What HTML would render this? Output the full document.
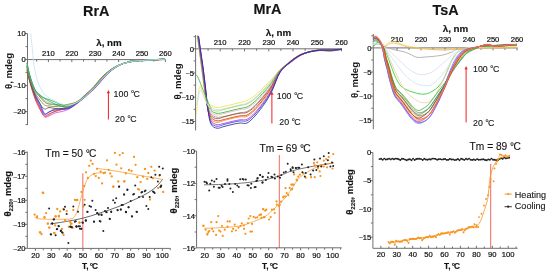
<!DOCTYPE html>
<html><head><meta charset="utf-8"><style>
html,body{margin:0;padding:0;background:#fff;}
svg{display:block;font-family:"Liberation Sans",sans-serif;will-change:transform;filter:blur(0.3px);}
</style></head><body>
<svg width="550" height="273" viewBox="0 0 550 273">
<rect width="550" height="273" fill="#fff"/>
<text x="96.2" y="15.6" font-size="14.4" text-anchor="middle" font-weight="bold" fill="#151515" stroke="#151515" stroke-width="0.15" >RrA</text>
<text x="267.5" y="13.6" font-size="14.4" text-anchor="middle" font-weight="bold" fill="#151515" stroke="#151515" stroke-width="0.15" >MrA</text>
<text x="445.6" y="14.5" font-size="14.4" text-anchor="middle" font-weight="bold" fill="#151515" stroke="#151515" stroke-width="0.15" >TsA</text>
<line x1="27.5" y1="33.5" x2="27.5" y2="125.0" stroke="#707070" stroke-width="1"/>
<line x1="25.1" y1="33.6" x2="27.5" y2="33.6" stroke="#707070" stroke-width="1"/>
<text x="25.8" y="36.3" font-size="7.6" text-anchor="end" font-weight="normal" fill="#151515" stroke="#151515" stroke-width="0.22" >10</text>
<line x1="25.1" y1="59.6" x2="27.5" y2="59.6" stroke="#707070" stroke-width="1"/>
<text x="25.8" y="62.3" font-size="7.6" text-anchor="end" font-weight="normal" fill="#151515" stroke="#151515" stroke-width="0.22" >0</text>
<line x1="25.1" y1="85.6" x2="27.5" y2="85.6" stroke="#707070" stroke-width="1"/>
<text x="25.8" y="88.3" font-size="7.6" text-anchor="end" font-weight="normal" fill="#151515" stroke="#151515" stroke-width="0.22" ><tspan font-size="6.4" dy="-0.5">&#8211;</tspan><tspan dy="0.5">10</tspan></text>
<line x1="25.1" y1="111.6" x2="27.5" y2="111.6" stroke="#707070" stroke-width="1"/>
<text x="25.8" y="114.3" font-size="7.6" text-anchor="end" font-weight="normal" fill="#151515" stroke="#151515" stroke-width="0.22" ><tspan font-size="6.4" dy="-0.5">&#8211;</tspan><tspan dy="0.5">20</tspan></text>
<line x1="25.5" y1="46.6" x2="27.5" y2="46.6" stroke="#707070" stroke-width="1"/>
<line x1="25.5" y1="72.6" x2="27.5" y2="72.6" stroke="#707070" stroke-width="1"/>
<line x1="25.5" y1="98.6" x2="27.5" y2="98.6" stroke="#707070" stroke-width="1"/>
<line x1="25.5" y1="124.6" x2="27.5" y2="124.6" stroke="#707070" stroke-width="1"/>
<line x1="27.5" y1="59.6" x2="165.5" y2="59.6" stroke="#707070" stroke-width="1"/>
<line x1="36.7" y1="59.6" x2="36.7" y2="61.6" stroke="#707070" stroke-width="1"/>
<line x1="48.4" y1="59.6" x2="48.4" y2="62.1" stroke="#707070" stroke-width="1"/>
<text x="48.4" y="56.2" font-size="7.6" text-anchor="middle" font-weight="normal" fill="#151515" stroke="#151515" stroke-width="0.22" >210</text>
<line x1="60.1" y1="59.6" x2="60.1" y2="61.6" stroke="#707070" stroke-width="1"/>
<line x1="71.8" y1="59.6" x2="71.8" y2="62.1" stroke="#707070" stroke-width="1"/>
<text x="71.8" y="56.2" font-size="7.6" text-anchor="middle" font-weight="normal" fill="#151515" stroke="#151515" stroke-width="0.22" >220</text>
<line x1="83.5" y1="59.6" x2="83.5" y2="61.6" stroke="#707070" stroke-width="1"/>
<line x1="95.2" y1="59.6" x2="95.2" y2="62.1" stroke="#707070" stroke-width="1"/>
<text x="95.2" y="56.2" font-size="7.6" text-anchor="middle" font-weight="normal" fill="#151515" stroke="#151515" stroke-width="0.22" >230</text>
<line x1="106.9" y1="59.6" x2="106.9" y2="61.6" stroke="#707070" stroke-width="1"/>
<line x1="118.6" y1="59.6" x2="118.6" y2="62.1" stroke="#707070" stroke-width="1"/>
<text x="118.6" y="56.2" font-size="7.6" text-anchor="middle" font-weight="normal" fill="#151515" stroke="#151515" stroke-width="0.22" >240</text>
<line x1="130.3" y1="59.6" x2="130.3" y2="61.6" stroke="#707070" stroke-width="1"/>
<line x1="142.0" y1="59.6" x2="142.0" y2="62.1" stroke="#707070" stroke-width="1"/>
<text x="142.0" y="56.2" font-size="7.6" text-anchor="middle" font-weight="normal" fill="#151515" stroke="#151515" stroke-width="0.22" >250</text>
<line x1="153.7" y1="59.6" x2="153.7" y2="61.6" stroke="#707070" stroke-width="1"/>
<line x1="165.4" y1="59.6" x2="165.4" y2="62.1" stroke="#707070" stroke-width="1"/>
<text x="165.4" y="56.2" font-size="7.6" text-anchor="middle" font-weight="normal" fill="#151515" stroke="#151515" stroke-width="0.22" >260</text>
<text x="109.0" y="45.5" font-size="9.8" text-anchor="middle" font-weight="bold" fill="#151515" stroke="#151515" stroke-width="0.15" >&#955;, nm</text>
<line x1="195.6" y1="35.0" x2="195.6" y2="130.4" stroke="#707070" stroke-width="1"/>
<line x1="193.2" y1="48.8" x2="195.6" y2="48.8" stroke="#707070" stroke-width="1"/>
<text x="193.9" y="51.5" font-size="7.6" text-anchor="end" font-weight="normal" fill="#151515" stroke="#151515" stroke-width="0.22" >0</text>
<line x1="193.2" y1="73.0" x2="195.6" y2="73.0" stroke="#707070" stroke-width="1"/>
<text x="193.9" y="75.7" font-size="7.6" text-anchor="end" font-weight="normal" fill="#151515" stroke="#151515" stroke-width="0.22" ><tspan font-size="6.4" dy="-0.5">&#8211;</tspan><tspan dy="0.5">5</tspan></text>
<line x1="193.2" y1="97.2" x2="195.6" y2="97.2" stroke="#707070" stroke-width="1"/>
<text x="193.9" y="99.9" font-size="7.6" text-anchor="end" font-weight="normal" fill="#151515" stroke="#151515" stroke-width="0.22" ><tspan font-size="6.4" dy="-0.5">&#8211;</tspan><tspan dy="0.5">10</tspan></text>
<line x1="193.2" y1="121.4" x2="195.6" y2="121.4" stroke="#707070" stroke-width="1"/>
<text x="193.9" y="124.1" font-size="7.6" text-anchor="end" font-weight="normal" fill="#151515" stroke="#151515" stroke-width="0.22" ><tspan font-size="6.4" dy="-0.5">&#8211;</tspan><tspan dy="0.5">15</tspan></text>
<line x1="193.6" y1="36.7" x2="195.6" y2="36.7" stroke="#707070" stroke-width="1"/>
<line x1="193.6" y1="60.9" x2="195.6" y2="60.9" stroke="#707070" stroke-width="1"/>
<line x1="193.6" y1="85.1" x2="195.6" y2="85.1" stroke="#707070" stroke-width="1"/>
<line x1="193.6" y1="109.3" x2="195.6" y2="109.3" stroke="#707070" stroke-width="1"/>
<line x1="195.6" y1="48.8" x2="342.0" y2="48.8" stroke="#707070" stroke-width="1"/>
<line x1="208.1" y1="48.8" x2="208.1" y2="50.8" stroke="#707070" stroke-width="1"/>
<line x1="220.2" y1="48.8" x2="220.2" y2="51.3" stroke="#707070" stroke-width="1"/>
<text x="220.2" y="45.0" font-size="7.6" text-anchor="middle" font-weight="normal" fill="#151515" stroke="#151515" stroke-width="0.22" >210</text>
<line x1="232.4" y1="48.8" x2="232.4" y2="50.8" stroke="#707070" stroke-width="1"/>
<line x1="244.5" y1="48.8" x2="244.5" y2="51.3" stroke="#707070" stroke-width="1"/>
<text x="244.5" y="45.0" font-size="7.6" text-anchor="middle" font-weight="normal" fill="#151515" stroke="#151515" stroke-width="0.22" >220</text>
<line x1="256.6" y1="48.8" x2="256.6" y2="50.8" stroke="#707070" stroke-width="1"/>
<line x1="268.8" y1="48.8" x2="268.8" y2="51.3" stroke="#707070" stroke-width="1"/>
<text x="268.8" y="45.0" font-size="7.6" text-anchor="middle" font-weight="normal" fill="#151515" stroke="#151515" stroke-width="0.22" >230</text>
<line x1="280.9" y1="48.8" x2="280.9" y2="50.8" stroke="#707070" stroke-width="1"/>
<line x1="293.0" y1="48.8" x2="293.0" y2="51.3" stroke="#707070" stroke-width="1"/>
<text x="293.0" y="45.0" font-size="7.6" text-anchor="middle" font-weight="normal" fill="#151515" stroke="#151515" stroke-width="0.22" >240</text>
<line x1="305.1" y1="48.8" x2="305.1" y2="50.8" stroke="#707070" stroke-width="1"/>
<line x1="317.2" y1="48.8" x2="317.2" y2="51.3" stroke="#707070" stroke-width="1"/>
<text x="317.2" y="45.0" font-size="7.6" text-anchor="middle" font-weight="normal" fill="#151515" stroke="#151515" stroke-width="0.22" >250</text>
<line x1="329.4" y1="48.8" x2="329.4" y2="50.8" stroke="#707070" stroke-width="1"/>
<line x1="341.5" y1="48.8" x2="341.5" y2="51.3" stroke="#707070" stroke-width="1"/>
<text x="341.5" y="45.0" font-size="7.6" text-anchor="middle" font-weight="normal" fill="#151515" stroke="#151515" stroke-width="0.22" >260</text>
<text x="278.5" y="36.0" font-size="9.8" text-anchor="middle" font-weight="bold" fill="#151515" stroke="#151515" stroke-width="0.15" >&#955;, nm</text>
<line x1="373.3" y1="34.0" x2="373.3" y2="129.2" stroke="#707070" stroke-width="1"/>
<line x1="370.9" y1="47.9" x2="373.3" y2="47.9" stroke="#707070" stroke-width="1"/>
<text x="371.6" y="50.6" font-size="7.6" text-anchor="end" font-weight="normal" fill="#151515" stroke="#151515" stroke-width="0.22" >0</text>
<line x1="370.9" y1="72.0" x2="373.3" y2="72.0" stroke="#707070" stroke-width="1"/>
<text x="371.6" y="74.7" font-size="7.6" text-anchor="end" font-weight="normal" fill="#151515" stroke="#151515" stroke-width="0.22" ><tspan font-size="6.4" dy="-0.5">&#8211;</tspan><tspan dy="0.5">5</tspan></text>
<line x1="370.9" y1="96.1" x2="373.3" y2="96.1" stroke="#707070" stroke-width="1"/>
<text x="371.6" y="98.8" font-size="7.6" text-anchor="end" font-weight="normal" fill="#151515" stroke="#151515" stroke-width="0.22" ><tspan font-size="6.4" dy="-0.5">&#8211;</tspan><tspan dy="0.5">10</tspan></text>
<line x1="370.9" y1="120.2" x2="373.3" y2="120.2" stroke="#707070" stroke-width="1"/>
<text x="371.6" y="122.9" font-size="7.6" text-anchor="end" font-weight="normal" fill="#151515" stroke="#151515" stroke-width="0.22" ><tspan font-size="6.4" dy="-0.5">&#8211;</tspan><tspan dy="0.5">15</tspan></text>
<line x1="371.3" y1="35.8" x2="373.3" y2="35.8" stroke="#707070" stroke-width="1"/>
<line x1="371.3" y1="60.0" x2="373.3" y2="60.0" stroke="#707070" stroke-width="1"/>
<line x1="371.3" y1="84.1" x2="373.3" y2="84.1" stroke="#707070" stroke-width="1"/>
<line x1="371.3" y1="108.2" x2="373.3" y2="108.2" stroke="#707070" stroke-width="1"/>
<line x1="373.3" y1="47.9" x2="517.5" y2="47.9" stroke="#707070" stroke-width="1"/>
<line x1="385.0" y1="47.9" x2="385.0" y2="49.9" stroke="#707070" stroke-width="1"/>
<line x1="397.0" y1="47.9" x2="397.0" y2="50.4" stroke="#707070" stroke-width="1"/>
<text x="397.0" y="41.7" font-size="7.6" text-anchor="middle" font-weight="normal" fill="#151515" stroke="#151515" stroke-width="0.22" >210</text>
<line x1="409.0" y1="47.9" x2="409.0" y2="49.9" stroke="#707070" stroke-width="1"/>
<line x1="421.0" y1="47.9" x2="421.0" y2="50.4" stroke="#707070" stroke-width="1"/>
<text x="421.0" y="41.7" font-size="7.6" text-anchor="middle" font-weight="normal" fill="#151515" stroke="#151515" stroke-width="0.22" >220</text>
<line x1="433.0" y1="47.9" x2="433.0" y2="49.9" stroke="#707070" stroke-width="1"/>
<line x1="445.0" y1="47.9" x2="445.0" y2="50.4" stroke="#707070" stroke-width="1"/>
<text x="445.0" y="41.7" font-size="7.6" text-anchor="middle" font-weight="normal" fill="#151515" stroke="#151515" stroke-width="0.22" >230</text>
<line x1="457.0" y1="47.9" x2="457.0" y2="49.9" stroke="#707070" stroke-width="1"/>
<line x1="469.0" y1="47.9" x2="469.0" y2="50.4" stroke="#707070" stroke-width="1"/>
<text x="469.0" y="41.7" font-size="7.6" text-anchor="middle" font-weight="normal" fill="#151515" stroke="#151515" stroke-width="0.22" >240</text>
<line x1="481.0" y1="47.9" x2="481.0" y2="49.9" stroke="#707070" stroke-width="1"/>
<line x1="493.0" y1="47.9" x2="493.0" y2="50.4" stroke="#707070" stroke-width="1"/>
<text x="493.0" y="41.7" font-size="7.6" text-anchor="middle" font-weight="normal" fill="#151515" stroke="#151515" stroke-width="0.22" >250</text>
<line x1="505.0" y1="47.9" x2="505.0" y2="49.9" stroke="#707070" stroke-width="1"/>
<line x1="517.0" y1="47.9" x2="517.0" y2="50.4" stroke="#707070" stroke-width="1"/>
<text x="517.0" y="41.7" font-size="7.6" text-anchor="middle" font-weight="normal" fill="#151515" stroke="#151515" stroke-width="0.22" >260</text>
<text x="455.5" y="32.0" font-size="9.8" text-anchor="middle" font-weight="bold" fill="#151515" stroke="#151515" stroke-width="0.15" >&#955;, nm</text>
<text transform="translate(12.2 71.0) rotate(-90)" font-size="9.6" font-weight="bold" text-anchor="middle" fill="#151515">&#952;, mdeg</text>
<text transform="translate(181.4 81.4) rotate(-90)" font-size="9.6" font-weight="bold" text-anchor="middle" fill="#151515">&#952;, mdeg</text>
<text transform="translate(358.2 80.0) rotate(-90)" font-size="9.6" font-weight="bold" text-anchor="middle" fill="#151515">&#952;, mdeg</text>
<path d="M27.0 71.0 C27.5 73.0 28.7 78.3 30.0 83.0 C31.3 87.7 33.3 94.6 35.0 99.0 C36.7 103.4 38.4 106.5 40.0 109.5 C41.6 112.5 43.0 115.9 44.5 116.8 C46.0 117.7 47.2 116.0 49.0 115.0 C50.8 114.0 52.8 112.1 55.0 111.0 C57.2 109.9 59.5 109.2 62.0 108.5 C64.5 107.8 66.8 107.9 70.0 106.5 C73.2 105.1 77.8 102.4 80.9 100.2 C84.1 98.0 86.4 95.5 88.9 93.2 C91.4 91.0 93.9 88.8 95.9 86.7 C97.9 84.6 99.2 82.6 100.9 80.7 C102.6 78.8 104.2 76.9 105.9 75.2 C107.6 73.5 109.2 72.0 110.9 70.7 C112.6 69.4 114.2 68.1 115.9 67.1 C117.6 66.1 119.2 65.2 120.9 64.5 C122.6 63.8 123.6 63.3 125.9 62.7 C128.2 62.1 131.8 61.2 135.0 60.9 C138.2 60.5 141.7 60.5 145.0 60.3 C148.3 60.1 151.7 60.0 155.0 59.8 C158.3 59.7 163.3 59.3 165.0 59.1" fill="none" stroke="#ff8c1a" stroke-width="0.85" stroke-opacity="1" stroke-linejoin="round"/>
<path d="M27.0 69.0 C27.5 71.2 28.7 77.2 30.0 82.0 C31.3 86.8 33.3 93.5 35.0 98.0 C36.7 102.5 38.4 106.0 40.0 109.0 C41.6 112.0 43.0 115.2 44.5 116.0 C46.0 116.8 47.2 114.8 49.0 114.0 C50.8 113.2 52.8 112.2 55.0 111.5 C57.2 110.8 59.5 110.2 62.0 109.5 C64.5 108.8 66.8 109.1 70.0 107.5 C73.2 105.9 78.1 102.5 81.3 100.0 C84.6 97.6 86.8 95.3 89.3 93.0 C91.8 90.8 94.3 88.6 96.3 86.5 C98.3 84.5 99.7 82.5 101.3 80.5 C103.0 78.6 104.7 76.7 106.3 75.0 C108.0 73.4 109.7 71.9 111.3 70.5 C113.0 69.2 114.7 68.0 116.3 67.0 C118.0 65.9 119.7 65.1 121.3 64.3 C123.0 63.6 124.1 63.1 126.3 62.5 C128.6 62.0 131.9 61.1 135.0 60.8 C138.1 60.4 141.7 60.6 145.0 60.5 C148.3 60.3 151.7 60.2 155.0 59.9 C158.3 59.6 163.3 59.1 165.0 59.0" fill="none" stroke="#e0301e" stroke-width="0.85" stroke-opacity="1" stroke-linejoin="round"/>
<path d="M27.0 66.0 C27.5 68.2 28.7 73.8 30.0 79.0 C31.3 84.2 33.3 92.2 35.0 97.0 C36.7 101.8 38.4 104.2 40.0 107.5 C41.6 110.8 43.0 115.1 44.5 116.5 C46.0 117.9 47.2 116.6 49.0 116.0 C50.8 115.4 52.8 113.8 55.0 113.0 C57.2 112.2 59.5 112.2 62.0 111.5 C64.5 110.8 66.7 110.4 70.0 108.5 C73.3 106.6 78.5 102.5 81.8 99.9 C85.1 97.3 87.3 95.2 89.8 92.9 C92.3 90.7 94.8 88.5 96.8 86.4 C98.8 84.3 100.1 82.3 101.8 80.4 C103.5 78.5 105.1 76.6 106.8 74.9 C108.5 73.2 110.1 71.8 111.8 70.4 C113.5 69.1 115.1 67.8 116.8 66.8 C118.5 65.8 120.1 64.9 121.8 64.2 C123.5 63.5 124.6 63.0 126.8 62.4 C129.0 61.8 132.0 61.1 135.0 60.8 C138.0 60.5 141.7 60.9 145.0 60.7 C148.3 60.6 151.7 60.1 155.0 59.8 C158.3 59.5 163.3 58.9 165.0 58.7" fill="none" stroke="#d050e8" stroke-width="0.85" stroke-opacity="1" stroke-linejoin="round"/>
<path d="M27.0 67.0 C27.5 69.2 28.7 75.2 30.0 80.0 C31.3 84.8 33.3 91.7 35.0 96.0 C36.7 100.3 38.4 102.9 40.0 106.0 C41.6 109.1 43.0 113.5 44.5 114.5 C46.0 115.5 47.2 112.8 49.0 112.0 C50.8 111.2 52.8 110.4 55.0 110.0 C57.2 109.6 59.5 109.8 62.0 109.5 C64.5 109.2 66.8 109.5 70.0 108.0 C73.2 106.5 77.8 102.7 80.9 100.2 C84.1 97.7 86.4 95.5 88.9 93.2 C91.4 91.0 93.9 88.8 95.9 86.7 C97.9 84.6 99.2 82.6 100.9 80.7 C102.6 78.8 104.2 76.9 105.9 75.2 C107.6 73.5 109.2 72.0 110.9 70.7 C112.6 69.4 114.2 68.1 115.9 67.1 C117.6 66.1 119.2 65.2 120.9 64.5 C122.6 63.8 123.6 63.3 125.9 62.7 C128.2 62.1 131.8 61.2 135.0 60.9 C138.2 60.5 141.7 60.5 145.0 60.3 C148.3 60.1 151.7 60.0 155.0 59.8 C158.3 59.7 163.3 59.3 165.0 59.1" fill="none" stroke="#7a3fb0" stroke-width="0.85" stroke-opacity="1" stroke-linejoin="round"/>
<path d="M27.0 65.0 C27.5 67.2 28.7 73.7 30.0 78.5 C31.3 83.3 33.3 89.8 35.0 94.0 C36.7 98.2 38.4 100.2 40.0 103.5 C41.6 106.8 43.0 112.1 44.5 113.5 C46.0 114.9 47.2 112.8 49.0 112.0 C50.8 111.2 52.8 109.5 55.0 109.0 C57.2 108.5 59.5 109.0 62.0 108.8 C64.5 108.5 66.9 108.9 70.0 107.5 C73.1 106.1 77.4 102.7 80.5 100.3 C83.5 98.0 86.0 95.6 88.5 93.3 C91.0 91.1 93.5 88.9 95.5 86.8 C97.5 84.8 98.8 82.8 100.5 80.8 C102.1 78.9 103.8 77.0 105.5 75.3 C107.1 73.7 108.8 72.2 110.5 70.8 C112.1 69.5 113.8 68.3 115.5 67.2 C117.1 66.2 118.8 65.4 120.5 64.6 C122.1 63.9 123.0 63.5 125.5 62.9 C127.9 62.2 131.7 61.4 135.0 61.0 C138.3 60.6 141.7 60.5 145.0 60.2 C148.3 60.0 151.7 59.9 155.0 59.7 C158.3 59.5 163.3 59.3 165.0 59.2" fill="none" stroke="#3d3dff" stroke-width="0.85" stroke-opacity="1" stroke-linejoin="round"/>
<path d="M27.0 70.0 C27.5 72.0 28.7 77.8 30.0 82.0 C31.3 86.2 33.3 91.3 35.0 95.0 C36.7 98.7 38.4 101.7 40.0 104.0 C41.6 106.3 43.0 108.4 44.5 109.0 C46.0 109.6 47.2 107.6 49.0 107.5 C50.8 107.4 52.8 108.3 55.0 108.5 C57.2 108.7 59.5 108.8 62.0 108.5 C64.5 108.2 67.1 107.8 70.0 106.5 C72.9 105.2 76.6 102.8 79.5 100.7 C82.5 98.5 85.0 95.9 87.5 93.7 C90.0 91.4 92.5 89.2 94.5 87.2 C96.5 85.1 97.9 83.1 99.5 81.2 C101.2 79.2 102.9 77.3 104.5 75.7 C106.2 74.0 107.9 72.5 109.5 71.2 C111.2 69.8 112.9 68.6 114.5 67.6 C116.2 66.5 117.9 65.7 119.5 65.0 C121.2 64.2 122.0 63.8 124.5 63.1 C127.1 62.5 131.6 61.6 135.0 61.1 C138.4 60.6 141.7 60.7 145.0 60.4 C148.3 60.2 151.7 59.8 155.0 59.6 C158.3 59.4 163.3 59.2 165.0 59.1" fill="none" stroke="#555555" stroke-width="0.85" stroke-opacity="1" stroke-linejoin="round"/>
<path d="M27.0 66.0 C27.5 67.8 28.7 72.9 30.0 77.0 C31.3 81.1 33.3 87.2 35.0 90.5 C36.7 93.8 38.4 95.1 40.0 97.0 C41.6 98.9 43.0 100.8 44.5 102.0 C46.0 103.2 47.2 103.6 49.0 104.0 C50.8 104.4 52.8 104.3 55.0 104.5 C57.2 104.7 59.5 105.1 62.0 105.0 C64.5 104.9 67.4 104.6 70.0 104.0 C72.6 103.4 75.1 102.9 77.8 101.2 C80.4 99.6 83.2 96.5 85.8 94.2 C88.2 92.0 90.8 89.8 92.8 87.8 C94.8 85.7 96.1 83.7 97.8 81.8 C99.4 79.8 101.1 77.9 102.8 76.2 C104.4 74.6 106.1 73.1 107.8 71.8 C109.4 70.4 111.1 69.2 112.8 68.2 C114.4 67.1 116.1 66.3 117.8 65.5 C119.4 64.8 119.9 64.6 122.8 63.8 C125.6 62.9 131.3 61.1 135.0 60.5 C138.7 59.9 141.7 60.2 145.0 60.1 C148.3 60.0 151.7 60.3 155.0 60.2 C158.3 60.1 163.3 59.4 165.0 59.3" fill="none" stroke="#a0522d" stroke-width="0.85" stroke-opacity="1" stroke-linejoin="round"/>
<path d="M27.0 68.0 C27.5 69.9 28.7 75.4 30.0 79.5 C31.3 83.6 33.3 89.1 35.0 92.5 C36.7 95.9 38.4 97.9 40.0 100.0 C41.6 102.1 43.0 104.0 44.5 105.0 C46.0 106.0 47.2 105.8 49.0 106.0 C50.8 106.2 52.8 106.4 55.0 106.5 C57.2 106.6 59.5 106.8 62.0 106.5 C64.5 106.2 67.2 105.9 70.0 105.0 C72.8 104.1 75.9 102.8 78.7 101.0 C81.4 99.1 84.2 96.2 86.7 94.0 C89.2 91.7 91.7 89.5 93.7 87.5 C95.7 85.4 97.0 83.4 98.7 81.5 C100.3 79.5 102.0 77.6 103.7 76.0 C105.3 74.3 107.0 72.8 108.7 71.5 C110.3 70.1 112.0 68.9 113.7 67.9 C115.3 66.8 117.0 66.0 118.7 65.2 C120.3 64.5 120.9 64.2 123.7 63.5 C126.4 62.7 131.4 61.3 135.0 60.8 C138.6 60.3 141.7 60.7 145.0 60.5 C148.3 60.4 151.7 60.1 155.0 59.9 C158.3 59.6 163.3 59.1 165.0 58.9" fill="none" stroke="#8a8a3a" stroke-width="0.85" stroke-opacity="1" stroke-linejoin="round"/>
<path d="M27.0 62.7 C27.5 65.1 28.7 72.5 30.0 77.0 C31.3 81.5 33.3 86.8 35.0 89.8 C36.7 92.8 38.4 93.6 40.0 95.0 C41.6 96.4 43.0 97.2 44.5 98.0 C46.0 98.8 47.2 98.8 49.0 99.5 C50.8 100.2 52.8 101.1 55.0 102.0 C57.2 102.9 59.5 104.4 62.0 105.0 C64.5 105.6 67.2 106.2 70.0 105.5 C72.8 104.8 76.2 102.8 79.1 100.8 C81.9 98.8 84.6 96.0 87.1 93.8 C89.6 91.5 92.1 89.4 94.1 87.3 C96.1 85.2 97.4 83.2 99.1 81.3 C100.8 79.4 102.4 77.5 104.1 75.8 C105.8 74.1 107.4 72.6 109.1 71.3 C110.8 70.0 112.4 68.7 114.1 67.7 C115.8 66.7 117.4 65.8 119.1 65.1 C120.8 64.4 121.4 64.0 124.1 63.3 C126.8 62.6 131.5 61.4 135.0 61.0 C138.5 60.5 141.7 60.7 145.0 60.5 C148.3 60.3 151.7 59.9 155.0 59.7 C158.3 59.4 163.3 59.1 165.0 59.0" fill="none" stroke="#2db82d" stroke-width="0.85" stroke-opacity="1" stroke-linejoin="round"/>
<path d="M27.0 64.0 C27.5 66.0 28.7 71.7 30.0 76.0 C31.3 80.3 33.3 86.7 35.0 90.0 C36.7 93.3 38.4 94.2 40.0 96.0 C41.6 97.8 43.0 99.3 44.5 100.5 C46.0 101.7 47.2 102.2 49.0 103.0 C50.8 103.8 52.8 104.4 55.0 105.0 C57.2 105.6 59.5 106.4 62.0 106.5 C64.5 106.6 67.1 106.5 70.0 105.5 C72.9 104.5 76.6 102.6 79.5 100.7 C82.5 98.7 85.0 95.9 87.5 93.7 C90.0 91.4 92.5 89.2 94.5 87.2 C96.5 85.1 97.9 83.1 99.5 81.2 C101.2 79.2 102.9 77.3 104.5 75.7 C106.2 74.0 107.9 72.5 109.5 71.2 C111.2 69.8 112.9 68.6 114.5 67.6 C116.2 66.5 117.9 65.7 119.5 65.0 C121.2 64.2 122.0 63.8 124.5 63.1 C127.1 62.5 131.6 61.6 135.0 61.1 C138.4 60.6 141.7 60.7 145.0 60.4 C148.3 60.2 151.7 59.8 155.0 59.6 C158.3 59.4 163.3 59.2 165.0 59.1" fill="none" stroke="#7fd66f" stroke-width="0.85" stroke-opacity="1" stroke-linejoin="round"/>
<path d="M27.0 63.0 C27.5 65.2 28.7 71.6 30.0 76.0 C31.3 80.4 33.3 86.2 35.0 89.5 C36.7 92.8 38.4 94.0 40.0 95.5 C41.6 97.0 43.0 97.6 44.5 98.5 C46.0 99.4 47.2 100.1 49.0 101.0 C50.8 101.9 52.8 103.1 55.0 104.0 C57.2 104.9 59.5 106.1 62.0 106.5 C64.5 106.9 67.0 107.5 70.0 106.5 C73.0 105.5 77.0 102.7 80.0 100.5 C83.0 98.3 85.5 95.8 88.0 93.5 C90.5 91.2 93.0 89.1 95.0 87.0 C97.0 84.9 98.3 82.9 100.0 81.0 C101.7 79.1 103.3 77.2 105.0 75.5 C106.7 73.8 108.3 72.3 110.0 71.0 C111.7 69.7 113.3 68.4 115.0 67.4 C116.7 66.4 118.3 65.5 120.0 64.8 C121.7 64.1 122.5 63.6 125.0 63.0 C127.5 62.4 131.7 61.6 135.0 61.1 C138.3 60.6 141.7 60.5 145.0 60.3 C148.3 60.0 151.7 59.8 155.0 59.6 C158.3 59.4 163.3 59.3 165.0 59.2" fill="none" stroke="#2a9d8f" stroke-width="0.85" stroke-opacity="1" stroke-linejoin="round"/>
<path d="M30.6 33.3 C30.8 34.8 31.3 39.0 31.6 42.0 C31.9 45.0 32.2 48.0 32.5 51.0 C32.8 54.0 33.0 57.2 33.3 60.0 C33.6 62.8 34.0 65.5 34.5 68.0 C35.0 70.5 35.5 72.8 36.0 75.0 C36.5 77.2 36.8 79.0 37.5 81.0 C38.2 83.0 39.2 85.3 40.0 87.0 C40.8 88.7 41.7 90.0 42.5 91.3 C43.3 92.6 43.8 93.5 45.0 94.7 C46.2 95.9 48.3 97.5 50.0 98.6 C51.7 99.6 53.0 100.1 55.0 101.0 C57.0 101.9 59.5 103.3 62.0 104.0 C64.5 104.7 66.9 105.6 70.0 105.0 C73.1 104.4 77.4 102.3 80.5 100.3 C83.5 98.4 86.0 95.6 88.5 93.3 C91.0 91.1 93.5 88.9 95.5 86.8 C97.5 84.8 98.8 82.8 100.5 80.8 C102.1 78.9 103.8 77.0 105.5 75.3 C107.1 73.7 108.8 72.2 110.5 70.8 C112.1 69.5 113.8 68.3 115.5 67.2 C117.1 66.2 118.8 65.4 120.5 64.6 C122.1 63.9 123.0 63.5 125.5 62.9 C127.9 62.2 131.7 61.4 135.0 61.0 C138.3 60.6 141.7 60.5 145.0 60.2 C148.3 60.0 151.7 59.9 155.0 59.7 C158.3 59.5 163.3 59.3 165.0 59.2" fill="none" stroke="#c4e4f8" stroke-width="0.85" stroke-opacity="1" stroke-linejoin="round"/>
<path d="M197.3 35.3 C197.6 37.6 198.2 43.4 199.0 49.2 C199.8 55.0 200.9 63.2 201.8 70.0 C202.7 76.8 203.6 84.8 204.4 90.0 C205.2 95.2 205.4 98.4 206.5 101.0 C207.6 103.6 209.2 104.4 211.0 105.5 C212.8 106.6 214.8 107.4 217.0 107.6 C219.2 107.8 221.5 107.0 224.0 106.5 C226.5 106.0 229.3 105.2 232.0 104.5 C234.7 103.8 237.5 103.2 240.0 102.5 C242.5 101.8 244.5 101.7 247.0 100.5 C249.5 99.3 252.0 97.9 255.0 95.5 C258.0 93.1 262.2 88.8 265.0 86.0 C267.8 83.2 269.5 81.8 272.0 79.0 C274.5 76.2 277.0 72.3 280.0 69.5 C283.0 66.7 286.7 64.6 290.0 62.2 C293.3 59.8 296.7 57.0 300.0 55.2 C303.3 53.5 306.7 52.6 310.0 51.7 C313.3 50.9 316.7 50.4 320.0 50.1 C323.3 49.9 326.3 50.4 330.0 50.2 C333.7 50.1 340.0 49.4 342.0 49.2" fill="none" stroke="#efe24a" stroke-width="0.85" stroke-opacity="1" stroke-linejoin="round"/>
<path d="M197.4 35.4 C197.7 37.7 198.4 43.4 199.1 49.2 C199.9 55.0 201.0 63.2 201.9 70.0 C202.8 76.8 203.7 84.7 204.5 90.0 C205.3 95.3 205.6 99.0 206.6 101.8 C207.7 104.7 209.3 105.9 211.0 107.2 C212.7 108.5 214.8 109.4 217.0 109.7 C219.2 109.9 221.5 109.4 224.0 108.9 C226.5 108.5 229.3 107.6 232.0 106.9 C234.7 106.3 237.5 105.6 240.0 105.0 C242.5 104.3 244.5 104.2 247.0 103.0 C249.5 101.8 252.0 100.3 255.0 97.7 C258.0 95.2 262.2 90.7 265.0 87.8 C267.8 84.8 269.5 83.1 272.0 80.1 C274.5 77.1 276.9 72.8 280.0 69.8 C283.1 66.8 287.3 64.6 290.7 62.2 C294.2 59.8 297.4 57.0 300.7 55.2 C304.0 53.5 307.4 52.5 310.6 51.7 C313.8 50.9 316.8 50.6 320.0 50.4 C323.2 50.2 326.3 50.7 330.0 50.6 C333.7 50.4 340.0 49.6 342.0 49.4" fill="none" stroke="#d9d2f2" stroke-width="0.85" stroke-opacity="1" stroke-linejoin="round"/>
<path d="M197.5 35.5 C197.8 37.8 198.5 43.5 199.3 49.2 C200.0 54.9 201.2 63.2 202.1 70.0 C203.0 76.8 203.9 84.6 204.7 90.0 C205.4 95.4 205.7 99.5 206.8 102.6 C207.8 105.8 209.3 107.5 211.0 108.9 C212.7 110.3 214.8 111.0 217.0 111.1 C219.2 111.2 221.5 110.0 224.0 109.3 C226.5 108.7 229.3 108.0 232.0 107.3 C234.7 106.7 237.5 106.0 240.0 105.4 C242.5 104.9 244.5 105.1 247.0 104.0 C249.5 102.8 252.0 101.3 255.0 98.7 C258.0 96.2 262.2 91.7 265.0 88.8 C267.8 85.8 269.5 84.3 272.0 81.2 C274.5 78.1 277.2 73.2 280.0 70.0 C282.8 66.9 285.9 64.7 289.0 62.2 C292.2 59.7 295.7 57.0 299.0 55.2 C302.4 53.5 305.7 52.6 309.2 51.7 C312.7 50.8 316.5 50.0 320.0 49.7 C323.5 49.4 326.3 49.8 330.0 49.7 C333.7 49.6 340.0 49.1 342.0 49.0" fill="none" stroke="#8fe070" stroke-width="0.85" stroke-opacity="1" stroke-linejoin="round"/>
<path d="M197.7 35.6 C197.9 37.9 198.6 43.5 199.4 49.2 C200.1 54.9 201.3 63.2 202.2 70.0 C203.1 76.8 204.0 84.4 204.8 90.0 C205.6 95.6 205.9 100.0 206.9 103.5 C207.9 106.9 209.3 108.9 211.0 110.5 C212.7 112.2 214.8 113.0 217.0 113.3 C219.2 113.6 221.5 112.9 224.0 112.4 C226.5 111.9 229.3 111.0 232.0 110.4 C234.7 109.7 237.5 109.1 240.0 108.5 C242.5 107.9 244.5 108.1 247.0 107.0 C249.5 105.8 252.0 104.0 255.0 101.3 C258.0 98.6 262.2 94.0 265.0 90.8 C267.8 87.6 269.5 85.7 272.0 82.3 C274.5 78.9 276.9 73.7 280.0 70.3 C283.1 67.0 287.1 64.7 290.5 62.2 C293.9 59.7 297.2 57.0 300.5 55.2 C303.8 53.5 307.1 52.5 310.4 51.7 C313.7 50.9 316.7 50.4 320.0 50.3 C323.3 50.2 326.3 51.4 330.0 51.2 C333.7 51.1 340.0 49.6 342.0 49.3" fill="none" stroke="#2fb32f" stroke-width="0.85" stroke-opacity="1" stroke-linejoin="round"/>
<path d="M197.8 35.7 C198.1 38.0 198.7 43.5 199.5 49.2 C200.3 54.9 201.5 63.2 202.4 70.0 C203.3 76.8 204.1 84.3 204.9 90.0 C205.7 95.7 206.0 100.6 207.0 104.3 C208.1 108.0 209.3 110.4 211.0 112.2 C212.7 114.0 214.8 114.8 217.0 115.0 C219.2 115.2 221.5 114.1 224.0 113.5 C226.5 112.9 229.3 112.1 232.0 111.5 C234.7 110.8 237.5 110.2 240.0 109.7 C242.5 109.1 244.5 109.6 247.0 108.4 C249.5 107.3 252.0 105.5 255.0 102.8 C258.0 100.0 262.2 95.3 265.0 92.1 C267.8 88.8 269.5 86.9 272.0 83.4 C274.5 79.8 277.1 74.1 280.0 70.6 C282.9 67.1 286.4 64.8 289.6 62.2 C292.9 59.6 296.3 57.0 299.6 55.2 C303.0 53.5 306.3 52.6 309.7 51.7 C313.1 50.8 316.6 50.2 320.0 50.0 C323.4 49.7 326.3 50.2 330.0 50.0 C333.7 49.9 340.0 49.3 342.0 49.1" fill="none" stroke="#f3b6c4" stroke-width="0.85" stroke-opacity="1" stroke-linejoin="round"/>
<path d="M197.9 35.8 C198.2 38.1 198.9 43.5 199.6 49.2 C200.4 54.9 201.6 63.2 202.5 70.0 C203.4 76.8 204.3 84.2 205.0 90.0 C205.8 95.8 206.2 101.1 207.2 105.1 C208.2 109.1 209.4 111.9 211.0 113.9 C212.6 115.9 214.8 116.8 217.0 117.2 C219.2 117.7 221.5 116.9 224.0 116.5 C226.5 116.0 229.3 115.1 232.0 114.5 C234.7 113.9 237.5 113.2 240.0 112.7 C242.5 112.2 244.5 112.7 247.0 111.4 C249.5 110.2 252.0 108.3 255.0 105.4 C258.0 102.5 262.2 97.6 265.0 94.1 C267.8 90.6 269.5 88.3 272.0 84.5 C274.5 80.6 276.8 74.6 280.0 70.9 C283.2 67.2 287.6 64.8 291.1 62.2 C294.6 59.6 297.8 57.0 301.1 55.2 C304.4 53.5 307.7 52.5 310.9 51.7 C314.1 50.9 316.8 50.7 320.0 50.6 C323.2 50.4 326.3 50.9 330.0 50.7 C333.7 50.6 340.0 49.7 342.0 49.5" fill="none" stroke="#9a9a9a" stroke-width="0.85" stroke-opacity="1" stroke-linejoin="round"/>
<path d="M198.0 36.0 C198.3 38.2 199.0 43.5 199.8 49.2 C200.5 54.9 201.8 63.2 202.7 70.0 C203.6 76.8 204.4 84.0 205.2 90.0 C205.9 96.0 206.3 101.6 207.3 105.9 C208.3 110.2 209.4 113.5 211.0 115.6 C212.6 117.7 214.8 118.5 217.0 118.7 C219.2 118.9 221.5 117.5 224.0 116.9 C226.5 116.3 229.3 115.5 232.0 114.9 C234.7 114.3 237.5 113.6 240.0 113.2 C242.5 112.8 244.5 113.5 247.0 112.4 C249.5 111.2 252.0 109.3 255.0 106.4 C258.0 103.5 262.2 98.5 265.0 95.1 C267.8 91.6 269.5 89.5 272.0 85.5 C274.5 81.6 277.1 75.0 280.0 71.1 C282.9 67.2 286.2 64.9 289.4 62.2 C292.6 59.5 296.0 57.0 299.4 55.2 C302.8 53.5 306.1 52.6 309.5 51.7 C312.9 50.8 316.6 50.1 320.0 49.9 C323.4 49.6 326.3 50.0 330.0 49.9 C333.7 49.8 340.0 49.2 342.0 49.1" fill="none" stroke="#a0522d" stroke-width="0.85" stroke-opacity="1" stroke-linejoin="round"/>
<path d="M198.1 36.1 C198.4 38.3 199.1 43.5 199.9 49.2 C200.7 54.9 201.9 63.2 202.8 70.0 C203.7 76.8 204.5 83.9 205.3 90.0 C206.1 96.1 206.5 102.2 207.5 106.7 C208.4 111.3 209.4 114.9 211.0 117.3 C212.6 119.6 214.8 120.4 217.0 120.8 C219.2 121.2 221.5 120.1 224.0 119.5 C226.5 119.0 229.3 118.1 232.0 117.5 C234.7 116.9 237.5 116.3 240.0 115.8 C242.5 115.4 244.5 116.2 247.0 115.1 C249.5 113.9 252.0 111.7 255.0 108.7 C258.0 105.7 262.2 100.6 265.0 96.9 C267.8 93.3 269.5 90.9 272.0 86.6 C274.5 82.4 276.9 75.5 280.0 71.4 C283.1 67.3 287.0 64.9 290.4 62.2 C293.8 59.5 297.0 57.0 300.4 55.2 C303.7 53.5 307.0 52.5 310.3 51.7 C313.6 50.9 316.7 50.5 320.0 50.2 C323.3 50.0 326.3 50.5 330.0 50.4 C333.7 50.2 340.0 49.5 342.0 49.3" fill="none" stroke="#e0301e" stroke-width="0.85" stroke-opacity="1" stroke-linejoin="round"/>
<path d="M198.2 36.2 C198.5 38.3 199.2 43.6 200.0 49.2 C200.8 54.8 202.1 63.2 203.0 70.0 C203.9 76.8 204.6 83.7 205.4 90.0 C206.2 96.3 206.7 102.7 207.6 107.5 C208.5 112.4 209.4 116.5 211.0 119.0 C212.6 121.4 214.8 122.2 217.0 122.4 C219.2 122.7 221.5 121.1 224.0 120.4 C226.5 119.8 229.3 119.1 232.0 118.4 C234.7 117.8 237.5 117.2 240.0 116.8 C242.5 116.5 244.5 117.5 247.0 116.4 C249.5 115.3 252.0 113.1 255.0 110.0 C258.0 107.0 262.2 101.8 265.0 98.1 C267.8 94.4 269.5 92.1 272.0 87.7 C274.5 83.3 277.1 75.9 280.0 71.7 C282.9 67.4 286.1 64.9 289.3 62.2 C292.5 59.5 295.9 57.0 299.3 55.2 C302.6 53.5 305.9 52.6 309.4 51.7 C312.9 50.8 316.6 50.1 320.0 49.8 C323.4 49.5 326.3 50.0 330.0 49.8 C333.7 49.7 340.0 49.2 342.0 49.0" fill="none" stroke="#f08a20" stroke-width="0.85" stroke-opacity="1" stroke-linejoin="round"/>
<path d="M198.4 36.3 C198.7 38.4 199.4 43.6 200.1 49.2 C200.9 54.8 202.2 63.2 203.1 70.0 C204.0 76.8 204.8 83.6 205.5 90.0 C206.3 96.4 206.8 103.3 207.7 108.4 C208.6 113.5 209.5 117.9 211.0 120.6 C212.5 123.3 214.8 124.1 217.0 124.6 C219.2 125.1 221.5 123.9 224.0 123.4 C226.5 122.8 229.3 122.0 232.0 121.4 C234.7 120.8 237.5 120.1 240.0 119.8 C242.5 119.4 244.5 120.5 247.0 119.3 C249.5 118.1 252.0 115.8 255.0 112.6 C258.0 109.4 262.2 104.1 265.0 100.1 C267.8 96.2 269.5 93.5 272.0 88.8 C274.5 84.1 276.9 76.4 280.0 72.0 C283.1 67.5 287.2 65.0 290.6 62.2 C294.0 59.4 297.3 57.0 300.6 55.2 C303.9 53.5 307.3 52.5 310.5 51.7 C313.7 50.9 316.8 50.6 320.0 50.4 C323.2 50.1 326.3 50.7 330.0 50.5 C333.7 50.3 340.0 49.5 342.0 49.4" fill="none" stroke="#b040d0" stroke-width="0.85" stroke-opacity="1" stroke-linejoin="round"/>
<path d="M198.5 36.4 C198.8 38.5 199.5 43.6 200.3 49.2 C201.1 54.8 202.4 63.2 203.3 70.0 C204.2 76.8 204.9 83.5 205.7 90.0 C206.4 96.5 207.0 103.8 207.9 109.2 C208.8 114.6 209.5 119.5 211.0 122.3 C212.5 125.2 214.8 125.9 217.0 126.3 C219.2 126.6 221.5 125.1 224.0 124.5 C226.5 123.9 229.3 123.1 232.0 122.5 C234.7 121.9 237.5 121.2 240.0 120.9 C242.5 120.7 244.5 121.9 247.0 120.8 C249.5 119.6 252.0 117.3 255.0 114.0 C258.0 110.8 262.2 105.4 265.0 101.4 C267.8 97.4 269.5 94.8 272.0 89.9 C274.5 85.1 277.0 76.8 280.0 72.2 C283.0 67.6 286.5 65.0 289.8 62.2 C293.1 59.4 296.4 57.0 299.8 55.2 C303.1 53.5 306.4 52.6 309.8 51.7 C313.2 50.8 316.6 50.3 320.0 50.0 C323.4 49.7 326.3 50.2 330.0 50.1 C333.7 49.9 340.0 49.3 342.0 49.1" fill="none" stroke="#4545f0" stroke-width="0.85" stroke-opacity="1" stroke-linejoin="round"/>
<path d="M198.6 36.5 C198.9 38.6 199.6 43.6 200.4 49.2 C201.2 54.8 202.5 63.2 203.4 70.0 C204.3 76.8 205.0 83.3 205.8 90.0 C206.6 96.7 207.1 104.3 208.0 110.0 C208.9 115.7 209.5 121.0 211.0 124.0 C212.5 127.0 214.8 127.8 217.0 128.2 C219.2 128.6 221.5 127.1 224.0 126.5 C226.5 125.9 229.3 125.1 232.0 124.5 C234.7 123.9 237.5 123.2 240.0 123.0 C242.5 122.8 244.5 124.2 247.0 123.0 C249.5 121.8 252.0 119.3 255.0 116.0 C258.0 112.7 262.2 107.2 265.0 103.0 C267.8 98.8 269.5 96.1 272.0 91.0 C274.5 85.9 277.0 77.3 280.0 72.5 C283.0 67.7 286.7 65.1 290.0 62.2 C293.3 59.3 296.7 57.0 300.0 55.2 C303.3 53.5 306.7 52.6 310.0 51.7 C313.3 50.9 316.7 50.4 320.0 50.1 C323.3 49.9 326.3 50.4 330.0 50.2 C333.7 50.1 340.0 49.4 342.0 49.2" fill="none" stroke="#2e2e95" stroke-width="0.85" stroke-opacity="1" stroke-linejoin="round"/>
<path d="M195.9 74.6 C196.3 75.2 197.2 75.6 198.4 78.2 C199.6 80.8 201.5 86.2 203.0 90.0 C204.5 93.8 206.3 97.9 207.6 101.0 C208.9 104.1 210.4 107.2 211.0 108.5" fill="none" stroke="#3cb83c" stroke-width="0.85" stroke-opacity="1" stroke-linejoin="round"/>
<path d="M196.3 115.0 C196.6 112.5 197.3 104.7 197.8 100.0 C198.3 95.3 198.8 88.7 199.5 87.0 C200.2 85.3 201.1 88.2 202.0 90.0 C202.9 91.8 204.0 95.5 205.0 98.0 C206.0 100.5 207.0 103.4 208.0 105.0 C209.0 106.6 210.5 107.1 211.0 107.5" fill="none" stroke="#f0e660" stroke-width="0.85" stroke-opacity="1" stroke-linejoin="round"/>
<path d="M196.6 105.0 C196.9 103.5 197.8 98.5 198.5 96.0 C199.2 93.5 199.8 90.2 200.5 90.0 C201.2 89.8 202.0 92.8 203.0 95.0 C204.0 97.2 205.3 100.8 206.5 103.0 C207.7 105.2 209.4 107.2 210.0 108.0" fill="none" stroke="#bfe0f5" stroke-width="0.8" stroke-opacity="1" stroke-linejoin="round"/>
<path d="M373.0 47.5 C373.7 46.7 375.7 43.1 377.0 42.5 C378.3 41.9 379.7 42.8 381.0 44.0 C382.3 45.2 383.5 46.8 385.0 50.0 C386.5 53.2 388.3 58.7 390.0 63.0 C391.7 67.3 393.3 72.3 395.0 76.0 C396.7 79.7 398.2 82.8 400.0 85.0 C401.8 87.2 403.7 88.2 406.0 89.5 C408.3 90.8 411.0 91.7 414.0 92.5 C417.0 93.3 421.0 94.4 424.0 94.2 C427.0 94.0 429.7 92.7 432.0 91.5 C434.3 90.3 436.2 88.8 438.0 87.0 C439.8 85.2 441.5 83.1 443.0 80.5 C444.5 77.9 445.7 74.6 447.0 71.5 C448.3 68.4 449.7 64.8 451.0 62.0 C452.3 59.2 453.5 56.9 455.0 55.0 C456.5 53.1 458.2 51.6 460.0 50.5 C461.8 49.4 463.5 49.0 466.0 48.5 C468.5 48.0 471.0 47.9 475.0 47.6 C479.0 47.4 483.0 47.0 490.0 47.0 C497.0 47.0 512.5 47.2 517.0 47.3" fill="none" stroke="#52d852" stroke-width="1.0" stroke-opacity="1" stroke-linejoin="round"/>
<path d="M373.0 43.0 C373.6 42.3 375.2 39.3 376.5 39.0 C377.8 38.7 379.5 39.3 381.0 41.0 C382.5 42.7 383.7 45.2 385.5 49.0 C387.3 52.8 389.9 59.2 392.0 64.0 C394.1 68.8 395.8 73.7 398.0 78.0 C400.2 82.3 402.5 86.7 405.0 90.0 C407.5 93.3 410.2 95.9 413.0 98.0 C415.8 100.1 419.2 102.1 422.0 102.6 C424.8 103.1 427.5 102.8 430.0 101.0 C432.5 99.2 435.0 95.2 437.0 92.0 C439.0 88.8 440.3 85.5 442.0 82.0 C443.7 78.5 445.3 74.7 447.0 71.0 C448.7 67.3 450.2 63.2 452.0 60.0 C453.8 56.8 455.7 53.9 458.0 52.0 C460.3 50.1 462.3 49.2 466.0 48.5 C469.7 47.8 471.5 47.7 480.0 47.5 C488.5 47.3 510.8 47.3 517.0 47.3" fill="none" stroke="#f7cfae" stroke-width="0.9" stroke-opacity="1" stroke-linejoin="round"/>
<path d="M373.0 45.0 C373.7 44.2 375.6 40.9 377.0 40.5 C378.4 40.1 379.8 40.8 381.5 42.5 C383.2 44.2 384.8 47.8 387.0 51.0 C389.2 54.2 392.0 58.0 395.0 62.0 C398.0 66.0 401.7 71.5 405.0 75.0 C408.3 78.5 411.7 81.2 415.0 83.0 C418.3 84.8 422.0 85.3 425.0 85.5 C428.0 85.7 430.2 85.8 433.0 84.0 C435.8 82.2 438.8 78.8 442.0 75.0 C445.2 71.2 448.7 65.0 452.0 61.0 C455.3 57.0 459.0 53.1 462.0 51.0 C465.0 48.9 460.8 48.8 470.0 48.2 C479.2 47.6 509.2 47.4 517.0 47.3" fill="none" stroke="#cde5fa" stroke-width="0.9" stroke-opacity="1" stroke-linejoin="round"/>
<path d="M373.0 44.5 C373.7 43.9 375.5 41.2 377.0 41.0 C378.5 40.8 380.0 41.9 382.0 43.5 C384.0 45.1 386.0 47.6 389.0 50.5 C392.0 53.4 396.5 57.8 400.0 61.0 C403.5 64.2 406.7 67.7 410.0 70.0 C413.3 72.3 416.7 74.1 420.0 74.6 C423.3 75.1 426.7 74.4 430.0 73.0 C433.3 71.6 436.7 68.7 440.0 66.0 C443.3 63.3 446.7 59.6 450.0 57.0 C453.3 54.4 456.7 51.8 460.0 50.3 C463.3 48.8 460.5 48.5 470.0 48.0 C479.5 47.5 509.2 47.6 517.0 47.5" fill="none" stroke="#e2dcf4" stroke-width="0.9" stroke-opacity="1" stroke-linejoin="round"/>
<path d="M373.0 46.5 C373.7 46.1 375.3 44.1 377.0 44.0 C378.7 43.9 380.7 45.2 383.0 46.0 C385.3 46.8 388.6 48.0 390.9 48.7 C393.2 49.5 395.0 50.0 397.0 50.5 C399.0 51.0 400.8 50.8 403.0 51.4 C405.2 52.0 407.7 53.2 410.0 54.2 C412.3 55.2 414.5 56.8 417.0 57.3 C419.5 57.8 422.3 57.1 425.0 57.0 C427.7 56.9 430.0 56.7 433.0 56.4 C436.0 56.1 439.8 55.7 443.0 55.0 C446.2 54.3 448.8 53.0 452.0 52.0 C455.2 51.0 451.2 49.8 462.0 49.0 C472.8 48.2 507.8 47.8 517.0 47.5" fill="none" stroke="#a9a9a9" stroke-width="0.85" stroke-opacity="1" stroke-linejoin="round"/>
<path d="M380.0 47.8 C380.7 47.5 383.0 46.8 384.3 46.0 C385.6 45.2 386.7 43.8 388.0 43.0 C389.3 42.2 390.4 41.6 392.0 41.5 C393.6 41.4 395.7 42.1 397.5 42.6 C399.3 43.1 400.9 44.1 403.0 44.8 C405.1 45.4 407.7 46.0 410.0 46.5 C412.3 47.0 413.7 47.1 417.0 47.6 C420.3 48.1 425.3 48.9 430.0 49.2 C434.7 49.5 440.0 49.7 445.0 49.6 C450.0 49.5 455.0 49.1 460.0 48.8 C465.0 48.5 465.5 48.2 475.0 48.0 C484.5 47.8 510.0 47.6 517.0 47.5" fill="none" stroke="#efd84a" stroke-width="0.7" stroke-opacity="1" stroke-linejoin="round"/>
<path d="M381.0 48.0 C381.7 47.8 383.7 47.2 385.0 46.5 C386.3 45.8 387.7 44.6 389.0 44.0 C390.3 43.4 391.2 42.9 393.0 43.0 C394.8 43.1 397.2 43.8 400.0 44.5 C402.8 45.2 405.8 46.8 410.0 47.5 C414.2 48.2 420.0 48.6 425.0 49.0 C430.0 49.4 435.0 49.9 440.0 50.0 C445.0 50.1 450.0 49.8 455.0 49.5 C460.0 49.2 459.7 48.6 470.0 48.3 C480.3 48.0 509.2 47.7 517.0 47.6" fill="none" stroke="#f5b04a" stroke-width="0.7" stroke-opacity="1" stroke-linejoin="round"/>
<path d="M373.0 41.6 C373.4 41.5 374.3 40.7 375.3 40.8 C376.3 40.9 377.5 41.2 378.8 42.3 C380.1 43.5 381.9 45.2 383.1 47.8 C384.3 50.4 385.1 54.7 386.0 57.8 C387.0 60.8 387.9 63.3 388.7 66.1 C389.6 68.8 390.2 71.6 391.0 74.4 C391.9 77.1 392.9 80.3 393.8 82.7 C394.8 85.0 395.3 86.7 396.5 88.5 C397.8 90.3 399.9 91.7 401.5 93.4 C403.2 95.2 404.9 97.3 406.5 99.3 C408.2 101.2 410.0 103.5 411.5 105.2 C413.1 106.9 414.4 108.5 415.7 109.4 C417.0 110.3 418.1 110.7 419.3 110.5 C420.5 110.4 421.5 109.6 423.0 108.6 C424.5 107.7 426.5 106.6 428.3 104.7 C430.1 102.9 431.7 100.3 433.6 97.8 C435.5 95.2 437.8 92.1 439.9 89.3 C442.0 86.5 444.3 83.6 446.1 81.0 C447.9 78.4 449.2 75.9 450.8 73.5 C452.3 71.2 453.9 69.0 455.4 66.9 C457.0 64.8 458.7 62.8 460.1 61.1 C461.5 59.4 462.6 57.8 463.8 56.5 C464.9 55.2 465.9 54.0 466.9 53.2 C468.0 52.3 468.8 52.0 470.0 51.4 C471.2 50.8 472.8 50.0 474.0 49.4 C475.2 48.8 476.6 48.6 477.4 48.1 C478.2 47.6 477.4 46.9 479.0 46.6 C480.6 46.3 484.2 46.3 487.0 46.1 C489.8 45.9 492.8 45.5 496.0 45.2 C499.2 45.0 502.5 44.4 506.0 44.4 C509.5 44.4 515.2 45.1 517.0 45.3" fill="none" stroke="#2db82d" stroke-width="0.8" stroke-opacity="1" stroke-linejoin="round"/>
<path d="M373.0 40.8 C373.4 40.6 374.3 39.7 375.3 39.8 C376.3 39.9 377.4 40.2 378.8 41.6 C380.2 42.9 382.3 45.0 383.6 47.8 C384.9 50.6 385.5 55.0 386.4 58.1 C387.3 61.3 388.3 63.9 389.1 66.7 C390.0 69.6 390.6 72.5 391.4 75.3 C392.3 78.2 393.3 81.5 394.2 83.9 C395.1 86.4 395.6 88.1 396.9 89.9 C398.2 91.8 400.3 93.2 401.9 95.1 C403.6 97.0 405.3 99.1 406.9 101.1 C408.6 103.2 410.4 105.6 411.9 107.3 C413.5 109.1 414.9 110.7 416.3 111.6 C417.6 112.5 418.6 112.9 420.0 112.8 C421.4 112.7 423.2 111.8 424.9 110.8 C426.5 109.8 428.2 108.7 429.9 106.8 C431.6 104.9 433.1 102.2 434.9 99.6 C436.7 96.9 438.8 93.7 440.7 90.8 C442.5 87.9 444.6 84.9 446.2 82.2 C447.8 79.5 448.9 76.9 450.3 74.5 C451.7 72.0 453.0 69.7 454.4 67.6 C455.8 65.4 457.3 63.4 458.6 61.6 C459.8 59.8 460.9 58.2 461.9 56.8 C463.0 55.5 463.9 54.3 464.9 53.4 C466.0 52.5 466.8 52.1 468.0 51.4 C469.2 50.7 470.7 50.0 472.0 49.4 C473.3 48.8 474.6 48.6 475.8 48.1 C477.0 47.6 477.1 47.0 479.0 46.6 C480.9 46.2 484.2 46.2 487.0 46.0 C489.8 45.8 492.8 45.7 496.0 45.5 C499.2 45.4 502.5 44.9 506.0 44.9 C509.5 44.8 515.2 45.1 517.0 45.1" fill="none" stroke="#8a8a3a" stroke-width="0.8" stroke-opacity="1" stroke-linejoin="round"/>
<path d="M373.0 40.3 C373.4 40.1 374.3 39.2 375.3 39.3 C376.3 39.4 377.5 39.8 378.8 41.2 C380.1 42.6 381.8 44.9 383.0 47.8 C384.1 50.7 384.8 55.1 385.7 58.4 C386.6 61.6 387.6 64.2 388.4 67.2 C389.2 70.1 389.8 73.0 390.7 76.0 C391.5 78.9 392.6 82.3 393.5 84.8 C394.4 87.3 394.9 89.0 396.2 90.9 C397.5 92.8 399.5 94.3 401.2 96.2 C402.9 98.1 404.5 100.3 406.2 102.4 C407.9 104.4 409.6 106.9 411.2 108.7 C412.8 110.5 414.2 112.2 415.6 113.1 C417.0 114.0 418.1 114.5 419.5 114.3 C420.8 114.2 422.3 113.3 423.8 112.3 C425.4 111.3 427.3 110.1 429.0 108.2 C430.7 106.2 432.3 103.5 434.2 100.8 C436.0 98.0 438.2 94.8 440.2 91.8 C442.2 88.8 444.4 85.8 446.1 83.0 C447.8 80.2 449.0 77.6 450.5 75.1 C452.0 72.6 453.4 70.2 454.9 68.0 C456.4 65.8 458.0 63.7 459.3 61.9 C460.6 60.0 461.7 58.4 462.9 57.0 C464.0 55.6 464.9 54.5 466.0 53.5 C467.0 52.6 467.8 52.1 469.0 51.4 C470.2 50.7 471.7 50.0 473.0 49.4 C474.3 48.8 475.6 48.6 476.6 48.1 C477.6 47.6 477.3 47.0 479.0 46.6 C480.7 46.2 484.2 46.0 487.0 45.8 C489.8 45.7 492.8 45.8 496.0 45.7 C499.2 45.7 502.5 45.4 506.0 45.3 C509.5 45.1 515.2 45.0 517.0 44.9" fill="none" stroke="#2a9d8f" stroke-width="0.8" stroke-opacity="1" stroke-linejoin="round"/>
<path d="M373.0 39.9 C373.4 39.7 374.3 38.6 375.3 38.8 C376.3 38.9 377.4 39.3 378.8 40.8 C380.2 42.3 382.3 44.8 383.6 47.8 C384.8 50.8 385.3 55.3 386.2 58.6 C387.1 61.9 388.1 64.6 388.9 67.6 C389.7 70.6 390.3 73.6 391.2 76.6 C392.1 79.6 393.1 83.0 394.0 85.6 C394.9 88.1 395.4 90.0 396.7 91.9 C398.0 93.9 400.0 95.3 401.7 97.3 C403.4 99.2 405.0 101.5 406.7 103.6 C408.4 105.7 410.1 108.2 411.7 110.1 C413.3 111.9 414.8 113.6 416.2 114.6 C417.6 115.5 418.6 116.0 420.2 115.8 C421.8 115.7 423.9 114.8 425.6 113.8 C427.4 112.7 428.9 111.5 430.5 109.5 C432.2 107.6 433.7 104.8 435.4 102.0 C437.2 99.2 439.1 95.8 440.8 92.8 C442.6 89.8 444.3 86.6 445.8 83.8 C447.2 81.0 448.2 78.2 449.4 75.7 C450.7 73.2 451.9 70.8 453.1 68.5 C454.4 66.2 455.7 64.1 456.8 62.2 C458.0 60.3 459.0 58.7 460.0 57.2 C461.0 55.8 462.0 54.6 463.0 53.6 C464.0 52.7 464.8 52.1 466.0 51.4 C467.2 50.7 468.6 50.0 470.0 49.4 C471.4 48.8 472.7 48.6 474.2 48.1 C475.7 47.6 476.9 47.0 479.0 46.6 C481.1 46.2 484.2 45.7 487.0 45.6 C489.8 45.4 492.8 45.9 496.0 45.9 C499.2 45.9 502.5 45.8 506.0 45.6 C509.5 45.4 515.2 44.8 517.0 44.7" fill="none" stroke="#a0522d" stroke-width="0.8" stroke-opacity="1" stroke-linejoin="round"/>
<path d="M373.0 40.3 C373.4 40.1 374.3 39.2 375.3 39.3 C376.3 39.4 377.5 39.8 378.8 41.2 C380.1 42.6 381.9 44.9 383.0 47.8 C384.1 50.7 384.7 55.4 385.6 58.8 C386.4 62.1 387.4 64.9 388.2 67.9 C389.0 71.0 389.7 74.0 390.5 77.1 C391.4 80.1 392.4 83.6 393.3 86.2 C394.2 88.8 394.7 90.7 396.0 92.6 C397.3 94.6 399.4 96.1 401.0 98.1 C402.7 100.1 404.4 102.4 406.0 104.5 C407.7 106.7 409.4 109.3 411.0 111.1 C412.6 113.0 414.2 114.7 415.6 115.7 C417.1 116.7 418.2 117.1 419.7 117.0 C421.1 116.8 422.9 115.9 424.6 114.9 C426.2 113.8 428.0 112.6 429.6 110.6 C431.3 108.6 432.9 105.7 434.7 102.9 C436.5 100.0 438.5 96.6 440.4 93.5 C442.2 90.5 444.1 87.3 445.7 84.4 C447.2 81.5 448.3 78.8 449.6 76.2 C451.0 73.6 452.3 71.1 453.6 68.8 C454.9 66.6 456.4 64.3 457.6 62.4 C458.8 60.5 459.9 58.9 460.9 57.4 C462.0 56.0 463.0 54.7 464.0 53.7 C465.0 52.7 465.8 52.1 467.0 51.4 C468.2 50.7 469.7 50.0 471.0 49.4 C472.3 48.8 473.7 48.6 475.0 48.1 C476.3 47.6 477.0 47.1 479.0 46.6 C481.0 46.1 484.2 45.4 487.0 45.3 C489.8 45.2 492.8 46.0 496.0 46.0 C499.2 46.1 502.5 45.9 506.0 45.7 C509.5 45.4 515.2 44.7 517.0 44.5" fill="none" stroke="#f0c040" stroke-width="0.8" stroke-opacity="1" stroke-linejoin="round"/>
<path d="M373.0 39.4 C373.4 39.2 374.3 38.1 375.3 38.3 C376.3 38.5 377.6 38.8 378.8 40.4 C380.0 42.0 381.4 44.7 382.4 47.8 C383.4 50.9 384.0 55.5 384.9 59.0 C385.7 62.4 386.7 65.2 387.5 68.3 C388.4 71.4 389.0 74.5 389.8 77.6 C390.7 80.7 391.7 84.2 392.6 86.9 C393.6 89.5 394.1 91.4 395.3 93.4 C396.6 95.4 398.7 96.9 400.3 99.0 C402.0 101.0 403.7 103.3 405.3 105.5 C407.0 107.7 408.7 110.3 410.3 112.2 C412.0 114.0 413.5 115.8 415.0 116.8 C416.5 117.8 417.7 118.2 419.1 118.1 C420.5 118.0 421.9 117.1 423.5 116.0 C425.1 114.9 427.0 113.6 428.7 111.6 C430.5 109.6 432.1 106.7 433.9 103.8 C435.7 100.9 437.8 97.4 439.5 94.3 C441.3 91.2 443.0 87.9 444.5 85.0 C445.9 82.1 446.9 79.3 448.1 76.6 C449.4 74.0 450.6 71.5 451.8 69.2 C453.1 66.9 454.4 64.6 455.5 62.7 C456.7 60.7 457.8 59.0 458.8 57.6 C459.9 56.1 460.9 54.9 462.0 53.8 C463.0 52.8 463.8 52.1 465.0 51.4 C466.2 50.7 467.6 50.0 469.0 49.4 C470.4 48.8 471.7 48.6 473.4 48.1 C475.1 47.6 476.7 47.1 479.0 46.6 C481.3 46.1 484.2 45.2 487.0 45.1 C489.8 45.0 492.8 46.0 496.0 46.1 C499.2 46.2 502.5 46.0 506.0 45.7 C509.5 45.4 515.2 44.6 517.0 44.4" fill="none" stroke="#555555" stroke-width="0.8" stroke-opacity="1" stroke-linejoin="round"/>
<path d="M373.0 38.6 C373.4 38.3 374.3 37.1 375.3 37.3 C376.3 37.5 377.6 37.9 378.8 39.6 C380.0 41.4 381.3 44.5 382.3 47.8 C383.2 51.1 383.8 55.9 384.6 59.5 C385.4 63.1 386.4 66.0 387.2 69.2 C388.0 72.5 388.6 75.8 389.5 79.0 C390.4 82.2 391.4 86.0 392.3 88.8 C393.2 91.5 393.7 93.5 395.0 95.6 C396.3 97.7 398.3 99.3 400.0 101.4 C401.7 103.5 403.3 105.9 405.0 108.2 C406.7 110.6 408.4 113.3 410.0 115.3 C411.6 117.3 413.3 119.1 414.9 120.1 C416.4 121.2 417.7 121.7 419.2 121.5 C420.8 121.4 422.5 120.4 424.2 119.3 C425.9 118.1 427.6 116.8 429.3 114.7 C431.0 112.6 432.7 109.5 434.4 106.5 C436.2 103.5 438.1 99.8 439.8 96.5 C441.5 93.3 443.1 89.9 444.4 86.8 C445.7 83.7 446.7 80.8 447.8 78.0 C449.0 75.3 450.1 72.7 451.3 70.2 C452.4 67.8 453.6 65.4 454.7 63.4 C455.8 61.4 456.9 59.6 457.9 58.0 C459.0 56.5 460.0 55.2 461.0 54.1 C462.0 53.0 462.8 52.2 464.0 51.4 C465.2 50.6 466.6 50.0 468.0 49.4 C469.4 48.8 470.8 48.6 472.6 48.1 C474.4 47.6 476.6 47.2 479.0 46.6 C481.4 46.0 484.2 44.6 487.0 44.5 C489.8 44.4 492.8 46.1 496.0 46.2 C499.2 46.3 502.5 45.3 506.0 45.0 C509.5 44.7 515.2 44.5 517.0 44.3" fill="none" stroke="#c040e0" stroke-width="0.8" stroke-opacity="1" stroke-linejoin="round"/>
<path d="M373.0 39.0 C373.4 38.8 374.3 37.6 375.3 37.8 C376.3 38.0 377.5 38.3 378.8 40.0 C380.1 41.7 381.8 44.5 382.9 47.8 C383.9 51.1 384.3 56.0 385.1 59.7 C385.9 63.3 386.9 66.3 387.7 69.6 C388.5 72.9 389.2 76.2 390.0 79.5 C390.9 82.8 391.9 86.6 392.8 89.4 C393.7 92.2 394.2 94.2 395.5 96.3 C396.8 98.5 398.9 100.1 400.5 102.2 C402.2 104.4 403.9 106.8 405.5 109.2 C407.2 111.5 408.9 114.3 410.5 116.3 C412.2 118.3 413.9 120.2 415.5 121.3 C417.0 122.3 418.2 122.8 419.9 122.6 C421.6 122.5 424.1 121.5 425.9 120.4 C427.7 119.2 429.1 117.9 430.7 115.7 C432.4 113.6 434.0 110.5 435.6 107.4 C437.2 104.3 439.1 100.6 440.6 97.3 C442.1 94.0 443.5 90.5 444.8 87.4 C446.0 84.3 446.8 81.3 447.9 78.5 C448.9 75.7 449.9 73.0 451.0 70.6 C452.0 68.1 453.1 65.7 454.1 63.6 C455.1 61.6 456.1 59.8 457.1 58.2 C458.1 56.6 459.0 55.4 460.0 54.2 C461.0 53.1 461.8 52.2 463.0 51.4 C464.2 50.6 465.5 50.0 467.0 49.4 C468.5 48.8 469.8 48.6 471.8 48.1 C473.8 47.6 476.5 47.2 479.0 46.6 C481.5 46.0 484.2 44.5 487.0 44.4 C489.8 44.3 492.8 46.1 496.0 46.2 C499.2 46.2 502.5 45.0 506.0 44.7 C509.5 44.4 515.2 44.5 517.0 44.4" fill="none" stroke="#8a5ad8" stroke-width="0.8" stroke-opacity="1" stroke-linejoin="round"/>
<path d="M373.0 39.4 C373.4 39.2 374.3 38.1 375.3 38.3 C376.3 38.5 377.6 38.8 378.8 40.4 C380.0 42.0 381.4 44.6 382.4 47.8 C383.4 51.0 383.8 56.1 384.6 59.8 C385.4 63.5 386.4 66.5 387.2 69.8 C388.0 73.1 388.6 76.5 389.5 79.8 C390.4 83.1 391.4 87.0 392.3 89.8 C393.2 92.6 393.7 94.6 395.0 96.8 C396.3 99.0 398.3 100.6 400.0 102.8 C401.7 105.0 403.3 107.4 405.0 109.8 C406.7 112.2 408.3 115.0 410.0 117.0 C411.7 119.0 413.4 120.9 415.0 122.0 C416.6 123.1 417.8 123.5 419.5 123.4 C421.2 123.2 423.2 122.3 425.0 121.1 C426.8 119.9 428.3 118.6 430.0 116.4 C431.7 114.2 433.3 111.1 435.0 108.0 C436.7 104.9 438.5 101.2 440.0 97.8 C441.5 94.4 442.8 91.0 444.0 87.8 C445.2 84.6 446.0 81.6 447.0 78.8 C448.0 76.0 449.0 73.3 450.0 70.8 C451.0 68.3 452.0 65.9 453.0 63.8 C454.0 61.7 455.0 59.9 456.0 58.3 C457.0 56.7 458.0 55.4 459.0 54.3 C460.0 53.1 460.8 52.2 462.0 51.4 C463.2 50.6 464.5 50.0 466.0 49.4 C467.5 48.8 468.8 48.6 471.0 48.1 C473.2 47.6 476.3 47.2 479.0 46.6 C481.7 46.0 484.2 44.4 487.0 44.3 C489.8 44.3 492.8 46.1 496.0 46.1 C499.2 46.2 502.5 44.8 506.0 44.5 C509.5 44.3 515.2 44.5 517.0 44.5" fill="none" stroke="#6a6af2" stroke-width="0.8" stroke-opacity="1" stroke-linejoin="round"/>
<path d="M373.0 37.9 C373.4 37.6 374.3 36.3 375.3 36.5 C376.3 36.7 377.5 37.1 378.8 39.0 C380.1 40.9 382.2 44.4 383.4 47.8 C384.5 51.2 385.0 55.7 385.8 59.1 C386.7 62.6 387.6 65.4 388.5 68.6 C389.3 71.7 389.9 74.9 390.8 78.0 C391.6 81.2 392.6 84.8 393.6 87.5 C394.5 90.2 395.0 92.1 396.3 94.1 C397.5 96.2 399.6 97.7 401.3 99.8 C402.9 101.8 404.6 104.2 406.3 106.4 C407.9 108.6 409.6 111.3 411.3 113.2 C412.9 115.1 414.5 116.9 416.0 117.9 C417.5 118.9 418.5 119.4 420.2 119.2 C421.9 119.1 424.3 118.2 426.1 117.1 C427.9 116.0 429.3 114.7 430.9 112.6 C432.5 110.6 434.1 107.6 435.8 104.7 C437.4 101.8 439.4 98.2 441.0 95.0 C442.7 91.9 444.4 88.6 445.8 85.6 C447.2 82.6 448.2 79.8 449.3 77.1 C450.5 74.4 451.7 71.9 452.9 69.5 C454.1 67.2 455.3 64.9 456.5 62.9 C457.6 61.0 458.6 59.2 459.6 57.7 C460.6 56.2 461.5 55.0 462.5 53.9 C463.5 52.9 464.3 52.2 465.5 51.4 C466.7 50.6 468.1 50.0 469.5 49.4 C470.9 48.8 472.2 48.6 473.8 48.1 C475.4 47.6 476.8 47.1 479.0 46.6 C481.2 46.1 484.2 45.0 487.0 44.9 C489.8 44.8 492.8 46.1 496.0 46.2 C499.2 46.3 502.5 45.8 506.0 45.5 C509.5 45.2 515.2 44.5 517.0 44.3" fill="none" stroke="#e0301e" stroke-width="0.8" stroke-opacity="1" stroke-linejoin="round"/>
<path d="M373.0 37.4 C373.4 37.2 374.3 35.8 375.3 36.0 C376.3 36.2 377.5 36.6 378.8 38.6 C380.1 40.6 381.8 44.3 382.8 47.8 C383.9 51.3 384.4 55.8 385.2 59.3 C386.0 62.8 387.0 65.7 387.8 68.9 C388.7 72.1 389.3 75.3 390.1 78.5 C391.0 81.7 392.0 85.4 392.9 88.1 C393.8 90.8 394.3 92.8 395.6 94.8 C396.9 96.9 399.0 98.5 400.6 100.6 C402.3 102.7 404.0 105.0 405.6 107.3 C407.3 109.6 409.0 112.3 410.6 114.2 C412.3 116.2 413.9 118.0 415.4 119.0 C417.0 120.1 418.1 120.5 419.7 120.4 C421.3 120.2 423.4 119.3 425.1 118.2 C426.9 117.0 428.5 115.8 430.1 113.7 C431.8 111.6 433.4 108.6 435.1 105.6 C436.8 102.6 438.7 99.0 440.4 95.8 C442.0 92.6 443.6 89.2 445.0 86.2 C446.3 83.2 447.3 80.3 448.4 77.6 C449.6 74.8 450.7 72.3 451.9 69.9 C453.1 67.5 454.3 65.2 455.4 63.2 C456.5 61.2 457.5 59.4 458.5 57.9 C459.5 56.4 460.5 55.1 461.5 54.0 C462.5 53.0 463.3 52.2 464.5 51.4 C465.7 50.6 467.1 50.0 468.5 49.4 C469.9 48.8 471.2 48.6 473.0 48.1 C474.8 47.6 476.7 47.2 479.0 46.6 C481.3 46.0 484.2 44.8 487.0 44.7 C489.8 44.6 492.8 46.1 496.0 46.2 C499.2 46.3 502.5 45.6 506.0 45.3 C509.5 45.0 515.2 44.5 517.0 44.3" fill="none" stroke="#ff8c1a" stroke-width="0.8" stroke-opacity="1" stroke-linejoin="round"/>
<line x1="108.4" y1="92.6" x2="108.4" y2="119.5" stroke="#f01f1f" stroke-width="1"/>
<path d="M108.4 90.1 L106.8 93.3 L110.0 93.3 Z" fill="#f01f1f"/>
<text x="113.6" y="97.0" font-size="8.8" text-anchor="start" font-weight="normal" fill="#151515" stroke="#151515" stroke-width="0.12" >100 &#176;<tspan dx="-0.7">C</tspan></text>
<text x="115.1" y="122.0" font-size="8.8" text-anchor="start" font-weight="normal" fill="#151515" stroke="#151515" stroke-width="0.12" >20 &#176;<tspan dx="-0.7">C</tspan></text>
<line x1="271.9" y1="94.0" x2="271.9" y2="123.4" stroke="#f01f1f" stroke-width="1"/>
<path d="M271.9 91.5 L270.3 94.7 L273.5 94.7 Z" fill="#f01f1f"/>
<text x="276.8" y="99.2" font-size="8.8" text-anchor="start" font-weight="normal" fill="#151515" stroke="#151515" stroke-width="0.12" >100 &#176;<tspan dx="-0.7">C</tspan></text>
<text x="279.3" y="125.0" font-size="8.8" text-anchor="start" font-weight="normal" fill="#151515" stroke="#151515" stroke-width="0.12" >20 &#176;<tspan dx="-0.7">C</tspan></text>
<line x1="466.1" y1="68.6" x2="466.1" y2="122.4" stroke="#f01f1f" stroke-width="1"/>
<path d="M466.1 66.1 L464.5 69.3 L467.7 69.3 Z" fill="#f01f1f"/>
<text x="473.0" y="72.2" font-size="8.8" text-anchor="start" font-weight="normal" fill="#151515" stroke="#151515" stroke-width="0.12" >100 &#176;<tspan dx="-0.7">C</tspan></text>
<text x="473.0" y="125.9" font-size="8.8" text-anchor="start" font-weight="normal" fill="#151515" stroke="#151515" stroke-width="0.12" >20 &#176;<tspan dx="-0.7">C</tspan></text>
<line x1="82.8" y1="173.3" x2="82.8" y2="248.0" stroke="#f28b82" stroke-width="1.3"/>
<line x1="279.3" y1="155.0" x2="279.3" y2="248.0" stroke="#f26b5b" stroke-width="1"/>
<line x1="490.7" y1="164.0" x2="490.7" y2="248.0" stroke="#f26b5b" stroke-width="1"/>
<line x1="27.3" y1="151.5" x2="27.3" y2="248.4" stroke="#707070" stroke-width="1"/>
<line x1="24.9" y1="152.3" x2="27.3" y2="152.3" stroke="#707070" stroke-width="1"/>
<text x="25.6" y="155.0" font-size="7.6" text-anchor="end" font-weight="normal" fill="#151515" stroke="#151515" stroke-width="0.22" ><tspan font-size="6.4" dy="-0.5">&#8211;</tspan><tspan dy="0.5">16</tspan></text>
<line x1="24.9" y1="176.3" x2="27.3" y2="176.3" stroke="#707070" stroke-width="1"/>
<text x="25.6" y="179.0" font-size="7.6" text-anchor="end" font-weight="normal" fill="#151515" stroke="#151515" stroke-width="0.22" ><tspan font-size="6.4" dy="-0.5">&#8211;</tspan><tspan dy="0.5">17</tspan></text>
<line x1="24.9" y1="200.3" x2="27.3" y2="200.3" stroke="#707070" stroke-width="1"/>
<text x="25.6" y="203.0" font-size="7.6" text-anchor="end" font-weight="normal" fill="#151515" stroke="#151515" stroke-width="0.22" ><tspan font-size="6.4" dy="-0.5">&#8211;</tspan><tspan dy="0.5">18</tspan></text>
<line x1="24.9" y1="224.3" x2="27.3" y2="224.3" stroke="#707070" stroke-width="1"/>
<text x="25.6" y="227.0" font-size="7.6" text-anchor="end" font-weight="normal" fill="#151515" stroke="#151515" stroke-width="0.22" ><tspan font-size="6.4" dy="-0.5">&#8211;</tspan><tspan dy="0.5">19</tspan></text>
<line x1="24.9" y1="248.3" x2="27.3" y2="248.3" stroke="#707070" stroke-width="1"/>
<text x="25.6" y="251.0" font-size="7.6" text-anchor="end" font-weight="normal" fill="#151515" stroke="#151515" stroke-width="0.22" ><tspan font-size="6.4" dy="-0.5">&#8211;</tspan><tspan dy="0.5">20</tspan></text>
<line x1="25.3" y1="164.3" x2="27.3" y2="164.3" stroke="#707070" stroke-width="1"/>
<line x1="25.3" y1="188.3" x2="27.3" y2="188.3" stroke="#707070" stroke-width="1"/>
<line x1="25.3" y1="212.3" x2="27.3" y2="212.3" stroke="#707070" stroke-width="1"/>
<line x1="25.3" y1="236.3" x2="27.3" y2="236.3" stroke="#707070" stroke-width="1"/>
<line x1="27.3" y1="248.4" x2="170.5" y2="248.4" stroke="#707070" stroke-width="1"/>
<line x1="35.4" y1="248.4" x2="35.4" y2="250.9" stroke="#707070" stroke-width="1"/>
<text x="35.4" y="258.0" font-size="7.6" text-anchor="middle" font-weight="normal" fill="#151515" stroke="#151515" stroke-width="0.22" >20</text>
<line x1="43.3" y1="248.4" x2="43.3" y2="250.2" stroke="#707070" stroke-width="1"/>
<line x1="51.3" y1="248.4" x2="51.3" y2="250.9" stroke="#707070" stroke-width="1"/>
<text x="51.3" y="258.0" font-size="7.6" text-anchor="middle" font-weight="normal" fill="#151515" stroke="#151515" stroke-width="0.22" >30</text>
<line x1="59.2" y1="248.4" x2="59.2" y2="250.2" stroke="#707070" stroke-width="1"/>
<line x1="67.2" y1="248.4" x2="67.2" y2="250.9" stroke="#707070" stroke-width="1"/>
<text x="67.2" y="258.0" font-size="7.6" text-anchor="middle" font-weight="normal" fill="#151515" stroke="#151515" stroke-width="0.22" >40</text>
<line x1="75.1" y1="248.4" x2="75.1" y2="250.2" stroke="#707070" stroke-width="1"/>
<line x1="83.0" y1="248.4" x2="83.0" y2="250.9" stroke="#707070" stroke-width="1"/>
<text x="83.0" y="258.0" font-size="7.6" text-anchor="middle" font-weight="normal" fill="#151515" stroke="#151515" stroke-width="0.22" >50</text>
<line x1="91.0" y1="248.4" x2="91.0" y2="250.2" stroke="#707070" stroke-width="1"/>
<line x1="98.9" y1="248.4" x2="98.9" y2="250.9" stroke="#707070" stroke-width="1"/>
<text x="98.9" y="258.0" font-size="7.6" text-anchor="middle" font-weight="normal" fill="#151515" stroke="#151515" stroke-width="0.22" >60</text>
<line x1="106.8" y1="248.4" x2="106.8" y2="250.2" stroke="#707070" stroke-width="1"/>
<line x1="114.8" y1="248.4" x2="114.8" y2="250.9" stroke="#707070" stroke-width="1"/>
<text x="114.8" y="258.0" font-size="7.6" text-anchor="middle" font-weight="normal" fill="#151515" stroke="#151515" stroke-width="0.22" >70</text>
<line x1="122.7" y1="248.4" x2="122.7" y2="250.2" stroke="#707070" stroke-width="1"/>
<line x1="130.7" y1="248.4" x2="130.7" y2="250.9" stroke="#707070" stroke-width="1"/>
<text x="130.7" y="258.0" font-size="7.6" text-anchor="middle" font-weight="normal" fill="#151515" stroke="#151515" stroke-width="0.22" >80</text>
<line x1="138.6" y1="248.4" x2="138.6" y2="250.2" stroke="#707070" stroke-width="1"/>
<line x1="146.5" y1="248.4" x2="146.5" y2="250.9" stroke="#707070" stroke-width="1"/>
<text x="146.5" y="258.0" font-size="7.6" text-anchor="middle" font-weight="normal" fill="#151515" stroke="#151515" stroke-width="0.22" >90</text>
<line x1="154.5" y1="248.4" x2="154.5" y2="250.2" stroke="#707070" stroke-width="1"/>
<line x1="162.4" y1="248.4" x2="162.4" y2="250.9" stroke="#707070" stroke-width="1"/>
<text x="162.4" y="258.0" font-size="7.6" text-anchor="middle" font-weight="normal" fill="#151515" stroke="#151515" stroke-width="0.22" >100</text>
<line x1="170.3" y1="248.4" x2="170.3" y2="250.2" stroke="#707070" stroke-width="1"/>
<text x="82.0" y="268.6" font-size="8.3" text-anchor="start" font-weight="bold" fill="#151515" stroke="#151515" stroke-width="0.15" >T,<tspan dx="-1.1">&#160;</tspan>&#176;<tspan dx="-1.0">C</tspan></text>
<line x1="196.6" y1="151.0" x2="196.6" y2="247.8" stroke="#707070" stroke-width="1"/>
<line x1="194.2" y1="151.0" x2="196.6" y2="151.0" stroke="#707070" stroke-width="1"/>
<text x="194.9" y="153.7" font-size="7.6" text-anchor="end" font-weight="normal" fill="#151515" stroke="#151515" stroke-width="0.22" ><tspan font-size="6.4" dy="-0.5">&#8211;</tspan><tspan dy="0.5">10</tspan></text>
<line x1="194.2" y1="183.4" x2="196.6" y2="183.4" stroke="#707070" stroke-width="1"/>
<text x="194.9" y="186.1" font-size="7.6" text-anchor="end" font-weight="normal" fill="#151515" stroke="#151515" stroke-width="0.22" ><tspan font-size="6.4" dy="-0.5">&#8211;</tspan><tspan dy="0.5">12</tspan></text>
<line x1="194.2" y1="215.8" x2="196.6" y2="215.8" stroke="#707070" stroke-width="1"/>
<text x="194.9" y="218.5" font-size="7.6" text-anchor="end" font-weight="normal" fill="#151515" stroke="#151515" stroke-width="0.22" ><tspan font-size="6.4" dy="-0.5">&#8211;</tspan><tspan dy="0.5">14</tspan></text>
<line x1="194.2" y1="248.2" x2="196.6" y2="248.2" stroke="#707070" stroke-width="1"/>
<text x="194.9" y="250.9" font-size="7.6" text-anchor="end" font-weight="normal" fill="#151515" stroke="#151515" stroke-width="0.22" ><tspan font-size="6.4" dy="-0.5">&#8211;</tspan><tspan dy="0.5">16</tspan></text>
<line x1="194.6" y1="167.2" x2="196.6" y2="167.2" stroke="#707070" stroke-width="1"/>
<line x1="194.6" y1="199.6" x2="196.6" y2="199.6" stroke="#707070" stroke-width="1"/>
<line x1="194.6" y1="232.0" x2="196.6" y2="232.0" stroke="#707070" stroke-width="1"/>
<line x1="196.6" y1="247.8" x2="341.7" y2="247.8" stroke="#707070" stroke-width="1"/>
<line x1="204.7" y1="247.8" x2="204.7" y2="250.3" stroke="#707070" stroke-width="1"/>
<text x="204.7" y="258.1" font-size="7.6" text-anchor="middle" font-weight="normal" fill="#151515" stroke="#151515" stroke-width="0.22" >20</text>
<line x1="212.7" y1="247.8" x2="212.7" y2="249.6" stroke="#707070" stroke-width="1"/>
<line x1="220.7" y1="247.8" x2="220.7" y2="250.3" stroke="#707070" stroke-width="1"/>
<text x="220.7" y="258.1" font-size="7.6" text-anchor="middle" font-weight="normal" fill="#151515" stroke="#151515" stroke-width="0.22" >30</text>
<line x1="228.7" y1="247.8" x2="228.7" y2="249.6" stroke="#707070" stroke-width="1"/>
<line x1="236.7" y1="247.8" x2="236.7" y2="250.3" stroke="#707070" stroke-width="1"/>
<text x="236.7" y="258.1" font-size="7.6" text-anchor="middle" font-weight="normal" fill="#151515" stroke="#151515" stroke-width="0.22" >40</text>
<line x1="244.7" y1="247.8" x2="244.7" y2="249.6" stroke="#707070" stroke-width="1"/>
<line x1="252.7" y1="247.8" x2="252.7" y2="250.3" stroke="#707070" stroke-width="1"/>
<text x="252.7" y="258.1" font-size="7.6" text-anchor="middle" font-weight="normal" fill="#151515" stroke="#151515" stroke-width="0.22" >50</text>
<line x1="260.7" y1="247.8" x2="260.7" y2="249.6" stroke="#707070" stroke-width="1"/>
<line x1="268.7" y1="247.8" x2="268.7" y2="250.3" stroke="#707070" stroke-width="1"/>
<text x="268.7" y="258.1" font-size="7.6" text-anchor="middle" font-weight="normal" fill="#151515" stroke="#151515" stroke-width="0.22" >60</text>
<line x1="276.7" y1="247.8" x2="276.7" y2="249.6" stroke="#707070" stroke-width="1"/>
<line x1="284.6" y1="247.8" x2="284.6" y2="250.3" stroke="#707070" stroke-width="1"/>
<text x="284.6" y="258.1" font-size="7.6" text-anchor="middle" font-weight="normal" fill="#151515" stroke="#151515" stroke-width="0.22" >70</text>
<line x1="292.6" y1="247.8" x2="292.6" y2="249.6" stroke="#707070" stroke-width="1"/>
<line x1="300.6" y1="247.8" x2="300.6" y2="250.3" stroke="#707070" stroke-width="1"/>
<text x="300.6" y="258.1" font-size="7.6" text-anchor="middle" font-weight="normal" fill="#151515" stroke="#151515" stroke-width="0.22" >80</text>
<line x1="308.6" y1="247.8" x2="308.6" y2="249.6" stroke="#707070" stroke-width="1"/>
<line x1="316.6" y1="247.8" x2="316.6" y2="250.3" stroke="#707070" stroke-width="1"/>
<text x="316.6" y="258.1" font-size="7.6" text-anchor="middle" font-weight="normal" fill="#151515" stroke="#151515" stroke-width="0.22" >90</text>
<line x1="324.6" y1="247.8" x2="324.6" y2="249.6" stroke="#707070" stroke-width="1"/>
<line x1="332.6" y1="247.8" x2="332.6" y2="250.3" stroke="#707070" stroke-width="1"/>
<text x="332.6" y="258.1" font-size="7.6" text-anchor="middle" font-weight="normal" fill="#151515" stroke="#151515" stroke-width="0.22" >100</text>
<line x1="340.6" y1="247.8" x2="340.6" y2="249.6" stroke="#707070" stroke-width="1"/>
<text x="262.0" y="269.2" font-size="8.3" text-anchor="start" font-weight="bold" fill="#151515" stroke="#151515" stroke-width="0.15" >T,<tspan dx="-1.1">&#160;</tspan>&#176;<tspan dx="-1.0">C</tspan></text>
<line x1="372.9" y1="152.5" x2="372.9" y2="248.3" stroke="#707070" stroke-width="1"/>
<line x1="370.5" y1="152.5" x2="372.9" y2="152.5" stroke="#707070" stroke-width="1"/>
<text x="371.2" y="155.2" font-size="7.6" text-anchor="end" font-weight="normal" fill="#151515" stroke="#151515" stroke-width="0.22" >0</text>
<line x1="370.5" y1="180.7" x2="372.9" y2="180.7" stroke="#707070" stroke-width="1"/>
<text x="371.2" y="183.4" font-size="7.6" text-anchor="end" font-weight="normal" fill="#151515" stroke="#151515" stroke-width="0.22" ><tspan font-size="6.4" dy="-0.5">&#8211;</tspan><tspan dy="0.5">5</tspan></text>
<line x1="370.5" y1="208.9" x2="372.9" y2="208.9" stroke="#707070" stroke-width="1"/>
<text x="371.2" y="211.6" font-size="7.6" text-anchor="end" font-weight="normal" fill="#151515" stroke="#151515" stroke-width="0.22" ><tspan font-size="6.4" dy="-0.5">&#8211;</tspan><tspan dy="0.5">10</tspan></text>
<line x1="370.5" y1="237.1" x2="372.9" y2="237.1" stroke="#707070" stroke-width="1"/>
<text x="371.2" y="239.8" font-size="7.6" text-anchor="end" font-weight="normal" fill="#151515" stroke="#151515" stroke-width="0.22" ><tspan font-size="6.4" dy="-0.5">&#8211;</tspan><tspan dy="0.5">15</tspan></text>
<line x1="370.9" y1="166.6" x2="372.9" y2="166.6" stroke="#707070" stroke-width="1"/>
<line x1="370.9" y1="194.8" x2="372.9" y2="194.8" stroke="#707070" stroke-width="1"/>
<line x1="370.9" y1="223.0" x2="372.9" y2="223.0" stroke="#707070" stroke-width="1"/>
<line x1="372.9" y1="248.3" x2="517.5" y2="248.3" stroke="#707070" stroke-width="1"/>
<line x1="380.9" y1="248.3" x2="380.9" y2="245.8" stroke="#707070" stroke-width="1"/>
<text x="380.9" y="257.2" font-size="7.6" text-anchor="middle" font-weight="normal" fill="#151515" stroke="#151515" stroke-width="0.22" >20</text>
<line x1="388.9" y1="248.3" x2="388.9" y2="246.5" stroke="#707070" stroke-width="1"/>
<line x1="396.8" y1="248.3" x2="396.8" y2="245.8" stroke="#707070" stroke-width="1"/>
<text x="396.8" y="257.2" font-size="7.6" text-anchor="middle" font-weight="normal" fill="#151515" stroke="#151515" stroke-width="0.22" >30</text>
<line x1="404.8" y1="248.3" x2="404.8" y2="246.5" stroke="#707070" stroke-width="1"/>
<line x1="412.7" y1="248.3" x2="412.7" y2="245.8" stroke="#707070" stroke-width="1"/>
<text x="412.7" y="257.2" font-size="7.6" text-anchor="middle" font-weight="normal" fill="#151515" stroke="#151515" stroke-width="0.22" >40</text>
<line x1="420.7" y1="248.3" x2="420.7" y2="246.5" stroke="#707070" stroke-width="1"/>
<line x1="428.6" y1="248.3" x2="428.6" y2="245.8" stroke="#707070" stroke-width="1"/>
<text x="428.6" y="257.2" font-size="7.6" text-anchor="middle" font-weight="normal" fill="#151515" stroke="#151515" stroke-width="0.22" >50</text>
<line x1="436.6" y1="248.3" x2="436.6" y2="246.5" stroke="#707070" stroke-width="1"/>
<line x1="444.5" y1="248.3" x2="444.5" y2="245.8" stroke="#707070" stroke-width="1"/>
<text x="444.5" y="257.2" font-size="7.6" text-anchor="middle" font-weight="normal" fill="#151515" stroke="#151515" stroke-width="0.22" >60</text>
<line x1="452.5" y1="248.3" x2="452.5" y2="246.5" stroke="#707070" stroke-width="1"/>
<line x1="460.4" y1="248.3" x2="460.4" y2="245.8" stroke="#707070" stroke-width="1"/>
<text x="460.4" y="257.2" font-size="7.6" text-anchor="middle" font-weight="normal" fill="#151515" stroke="#151515" stroke-width="0.22" >70</text>
<line x1="468.4" y1="248.3" x2="468.4" y2="246.5" stroke="#707070" stroke-width="1"/>
<line x1="476.4" y1="248.3" x2="476.4" y2="245.8" stroke="#707070" stroke-width="1"/>
<text x="476.4" y="257.2" font-size="7.6" text-anchor="middle" font-weight="normal" fill="#151515" stroke="#151515" stroke-width="0.22" >80</text>
<line x1="484.3" y1="248.3" x2="484.3" y2="246.5" stroke="#707070" stroke-width="1"/>
<line x1="492.3" y1="248.3" x2="492.3" y2="245.8" stroke="#707070" stroke-width="1"/>
<text x="492.3" y="257.2" font-size="7.6" text-anchor="middle" font-weight="normal" fill="#151515" stroke="#151515" stroke-width="0.22" >90</text>
<line x1="500.2" y1="248.3" x2="500.2" y2="246.5" stroke="#707070" stroke-width="1"/>
<line x1="508.2" y1="248.3" x2="508.2" y2="245.8" stroke="#707070" stroke-width="1"/>
<text x="508.2" y="257.2" font-size="7.6" text-anchor="middle" font-weight="normal" fill="#151515" stroke="#151515" stroke-width="0.22" >100</text>
<line x1="516.1" y1="248.3" x2="516.1" y2="246.5" stroke="#707070" stroke-width="1"/>
<text x="444.0" y="268.8" font-size="8.3" text-anchor="start" font-weight="bold" fill="#151515" stroke="#151515" stroke-width="0.15" >T,<tspan dx="-1.1">&#160;</tspan>&#176;<tspan dx="-1.0">C</tspan></text>
<text transform="translate(10.8 193.8) rotate(-90)" font-size="9.4" font-weight="bold" text-anchor="middle" fill="#151515" stroke="#151515" stroke-width="0.15">&#952;<tspan font-size="6.2" dy="2">220</tspan><tspan dy="-2">, mdeg</tspan></text>
<text transform="translate(176.9 190.6) rotate(-90)" font-size="9.4" font-weight="bold" text-anchor="middle" fill="#151515" stroke="#151515" stroke-width="0.15">&#952;<tspan font-size="6.2" dy="2">220</tspan><tspan dy="-2">, mdeg</tspan></text>
<text transform="translate(353.3 192.0) rotate(-90)" font-size="9.4" font-weight="bold" text-anchor="middle" fill="#151515" stroke="#151515" stroke-width="0.15">&#952;<tspan font-size="6.2" dy="2">220</tspan><tspan dy="-2">, mdeg</tspan></text>
<text x="45.2" y="157.0" font-size="10.2" text-anchor="start" font-weight="normal" fill="#151515" stroke="#151515" stroke-width="0.12" >Tm = 50 &#176;<tspan dx="-0.7">C</tspan></text>
<text x="259.5" y="152.4" font-size="10.2" text-anchor="start" font-weight="normal" fill="#151515" stroke="#151515" stroke-width="0.12" >Tm = 69 &#176;<tspan dx="-0.7">C</tspan></text>
<text x="469.6" y="150.2" font-size="10.2" text-anchor="start" font-weight="normal" fill="#151515" stroke="#151515" stroke-width="0.12" >Tm = 89 &#176;<tspan dx="-0.7">C</tspan></text>
<path d="M34.6 217.0 C35.2 217.3 36.3 218.2 38.0 218.6 C39.7 219.0 42.2 219.1 45.0 219.2 C47.8 219.3 51.7 219.3 55.0 219.3 C58.3 219.3 62.1 219.3 65.0 219.2 C67.9 219.1 70.7 219.4 72.5 218.5 C74.3 217.6 75.0 215.9 76.0 214.0 C77.0 212.1 77.6 210.0 78.5 207.0 C79.4 204.0 80.5 199.5 81.5 196.0 C82.5 192.5 83.5 188.8 84.5 186.0 C85.5 183.2 86.4 180.8 87.5 179.0 C88.6 177.2 89.8 176.1 91.0 175.2 C92.2 174.3 93.5 173.9 95.0 173.5 C96.5 173.1 98.2 173.0 100.0 172.8 C101.8 172.6 105.0 172.6 106.0 172.5" fill="none" stroke="#f8a040" stroke-width="0.8"/>
<path d="M97.0 168.3 C98.3 168.5 102.0 169.1 105.0 169.5 C108.0 169.9 111.7 170.5 115.0 171.0 C118.3 171.5 120.8 171.9 125.0 172.7 C129.2 173.4 135.5 174.7 140.0 175.5 C144.5 176.3 148.2 176.8 152.0 177.5 C155.8 178.2 161.0 179.2 162.8 179.5" fill="none" stroke="#f8a040" stroke-width="0.8"/>
<path d="M50.0 224.0 C52.7 223.6 60.7 222.4 66.0 221.5 C71.3 220.6 76.3 219.8 82.0 218.4 C87.7 217.0 93.7 215.1 100.0 213.0 C106.3 210.9 113.3 208.7 120.0 206.0 C126.7 203.3 135.0 199.4 140.0 197.0 C145.0 194.6 147.2 193.3 150.0 191.5 C152.8 189.7 154.9 188.0 157.0 186.0 C159.1 184.0 161.6 180.6 162.5 179.5" fill="none" stroke="#444" stroke-width="0.8"/>
<circle cx="90.8" cy="160.6" r="1.15" fill="#f7941d"/>
<circle cx="92.6" cy="163.9" r="1.15" fill="#f7941d"/>
<circle cx="89.2" cy="165.8" r="1.15" fill="#f7941d"/>
<circle cx="86.0" cy="172.3" r="1.15" fill="#f7941d"/>
<circle cx="87.9" cy="177.9" r="1.15" fill="#f7941d"/>
<circle cx="94.0" cy="173.8" r="1.15" fill="#f7941d"/>
<circle cx="97.0" cy="168.8" r="1.15" fill="#f7941d"/>
<circle cx="95.8" cy="176.1" r="1.15" fill="#f7941d"/>
<circle cx="98.8" cy="177.9" r="1.15" fill="#f7941d"/>
<circle cx="100.7" cy="171.7" r="1.15" fill="#f7941d"/>
<circle cx="103.6" cy="173.2" r="1.15" fill="#f7941d"/>
<circle cx="105.0" cy="172.7" r="1.15" fill="#f7941d"/>
<circle cx="107.0" cy="160.3" r="1.15" fill="#f7941d"/>
<circle cx="102.1" cy="183.4" r="1.15" fill="#f7941d"/>
<circle cx="108.7" cy="169.8" r="1.15" fill="#f7941d"/>
<circle cx="110.2" cy="173.5" r="1.15" fill="#f7941d"/>
<circle cx="111.7" cy="176.4" r="1.15" fill="#f7941d"/>
<circle cx="114.9" cy="152.9" r="1.15" fill="#f7941d"/>
<circle cx="119.7" cy="155.1" r="1.15" fill="#f7941d"/>
<circle cx="122.7" cy="153.2" r="1.15" fill="#f7941d"/>
<circle cx="116.5" cy="164.7" r="1.15" fill="#f7941d"/>
<circle cx="121.2" cy="168.3" r="1.15" fill="#f7941d"/>
<circle cx="118.3" cy="181.5" r="1.15" fill="#f7941d"/>
<circle cx="113.4" cy="186.7" r="1.15" fill="#f7941d"/>
<circle cx="124.1" cy="181.5" r="1.15" fill="#f7941d"/>
<circle cx="134.0" cy="156.9" r="1.15" fill="#f7941d"/>
<circle cx="135.6" cy="164.8" r="1.15" fill="#f7941d"/>
<circle cx="129.0" cy="170.0" r="1.15" fill="#f7941d"/>
<circle cx="131.5" cy="171.0" r="1.15" fill="#f7941d"/>
<circle cx="125.8" cy="173.4" r="1.15" fill="#f7941d"/>
<circle cx="145.0" cy="169.0" r="1.15" fill="#f7941d"/>
<circle cx="151.3" cy="166.8" r="1.15" fill="#f7941d"/>
<circle cx="154.6" cy="170.6" r="1.15" fill="#f7941d"/>
<circle cx="148.3" cy="173.0" r="1.15" fill="#f7941d"/>
<circle cx="137.3" cy="177.2" r="1.15" fill="#f7941d"/>
<circle cx="143.0" cy="176.7" r="1.15" fill="#f7941d"/>
<circle cx="147.2" cy="178.8" r="1.15" fill="#f7941d"/>
<circle cx="153.0" cy="178.3" r="1.15" fill="#f7941d"/>
<circle cx="159.5" cy="175.5" r="1.15" fill="#f7941d"/>
<circle cx="124.6" cy="181.3" r="1.15" fill="#f7941d"/>
<circle cx="140.6" cy="182.1" r="1.15" fill="#f7941d"/>
<circle cx="138.1" cy="189.2" r="1.15" fill="#f7941d"/>
<circle cx="158.2" cy="187.9" r="1.15" fill="#f7941d"/>
<circle cx="163.2" cy="192.0" r="1.15" fill="#f7941d"/>
<circle cx="139.0" cy="189.6" r="1.15" fill="#f7941d"/>
<circle cx="150.0" cy="199.5" r="1.15" fill="#f7941d"/>
<circle cx="42.7" cy="192.6" r="1.15" fill="#f7941d"/>
<circle cx="43.2" cy="193.0" r="1.15" fill="#f7941d"/>
<circle cx="34.6" cy="214.7" r="1.15" fill="#f7941d"/>
<circle cx="37.0" cy="217.2" r="1.15" fill="#f7941d"/>
<circle cx="44.5" cy="217.2" r="1.15" fill="#f7941d"/>
<circle cx="46.1" cy="213.1" r="1.15" fill="#f7941d"/>
<circle cx="57.3" cy="209.0" r="1.15" fill="#f7941d"/>
<circle cx="60.1" cy="211.4" r="1.15" fill="#f7941d"/>
<circle cx="66.7" cy="211.1" r="1.15" fill="#f7941d"/>
<circle cx="63.4" cy="209.0" r="1.15" fill="#f7941d"/>
<circle cx="55.7" cy="216.4" r="1.15" fill="#f7941d"/>
<circle cx="59.0" cy="216.0" r="1.15" fill="#f7941d"/>
<circle cx="73.3" cy="210.1" r="1.15" fill="#f7941d"/>
<circle cx="75.0" cy="199.9" r="1.15" fill="#f7941d"/>
<circle cx="77.4" cy="199.9" r="1.15" fill="#f7941d"/>
<circle cx="47.8" cy="223.8" r="1.15" fill="#f7941d"/>
<circle cx="49.4" cy="227.6" r="1.15" fill="#f7941d"/>
<circle cx="55.2" cy="225.4" r="1.15" fill="#f7941d"/>
<circle cx="65.0" cy="221.0" r="1.15" fill="#f7941d"/>
<circle cx="70.8" cy="223.8" r="1.15" fill="#f7941d"/>
<circle cx="72.5" cy="227.9" r="1.15" fill="#f7941d"/>
<circle cx="40.4" cy="232.5" r="1.15" fill="#f7941d"/>
<circle cx="54.4" cy="233.2" r="1.15" fill="#f7941d"/>
<circle cx="37.0" cy="216.3" r="1.15" fill="#f7941d"/>
<circle cx="44.4" cy="217.6" r="1.15" fill="#f7941d"/>
<circle cx="55.6" cy="216.5" r="1.15" fill="#f7941d"/>
<circle cx="58.8" cy="216.5" r="1.15" fill="#f7941d"/>
<circle cx="65.2" cy="220.1" r="1.15" fill="#f7941d"/>
<circle cx="47.9" cy="223.3" r="1.15" fill="#f7941d"/>
<circle cx="49.2" cy="227.6" r="1.15" fill="#f7941d"/>
<circle cx="62.0" cy="228.8" r="1.15" fill="#f7941d"/>
<circle cx="54.3" cy="233.0" r="1.15" fill="#f7941d"/>
<circle cx="63.6" cy="234.9" r="1.15" fill="#f7941d"/>
<circle cx="39.8" cy="232.3" r="1.15" fill="#f7941d"/>
<circle cx="41.5" cy="234.2" r="1.15" fill="#f7941d"/>
<circle cx="68.8" cy="226.8" r="1.15" fill="#f7941d"/>
<circle cx="70.3" cy="222.0" r="1.15" fill="#f7941d"/>
<circle cx="71.6" cy="223.7" r="1.15" fill="#f7941d"/>
<circle cx="79.3" cy="222.7" r="1.15" fill="#f7941d"/>
<circle cx="113.2" cy="186.6" r="1.15" fill="#f7941d"/>
<circle cx="84.6" cy="199.8" r="1.15" fill="#f7941d"/>
<circle cx="76.3" cy="200.2" r="1.15" fill="#f7941d"/>
<circle cx="79.6" cy="222.6" r="1.15" fill="#f7941d"/>
<circle cx="83.2" cy="206.7" r="1.15" fill="#f7941d"/>
<circle cx="81.5" cy="192.0" r="1.15" fill="#f7941d"/>
<circle cx="84.2" cy="186.0" r="1.15" fill="#f7941d"/>
<circle cx="119.0" cy="186.7" r="1.0" fill="#222222"/>
<circle cx="159.2" cy="166.8" r="1.0" fill="#222222"/>
<circle cx="162.8" cy="168.5" r="1.0" fill="#222222"/>
<circle cx="155.4" cy="174.7" r="1.0" fill="#222222"/>
<circle cx="151.3" cy="177.2" r="1.0" fill="#222222"/>
<circle cx="159.9" cy="175.0" r="1.0" fill="#222222"/>
<circle cx="157.9" cy="181.6" r="1.0" fill="#222222"/>
<circle cx="135.2" cy="185.4" r="1.0" fill="#222222"/>
<circle cx="127.4" cy="189.5" r="1.0" fill="#222222"/>
<circle cx="145.5" cy="190.4" r="1.0" fill="#222222"/>
<circle cx="142.2" cy="192.0" r="1.0" fill="#222222"/>
<circle cx="161.2" cy="185.4" r="1.0" fill="#222222"/>
<circle cx="160.4" cy="187.0" r="1.0" fill="#222222"/>
<circle cx="153.8" cy="192.0" r="1.0" fill="#222222"/>
<circle cx="134.0" cy="194.0" r="1.0" fill="#222222"/>
<circle cx="124.1" cy="194.6" r="1.0" fill="#222222"/>
<circle cx="133.2" cy="194.6" r="1.0" fill="#222222"/>
<circle cx="141.4" cy="192.4" r="1.0" fill="#222222"/>
<circle cx="144.7" cy="191.3" r="1.0" fill="#222222"/>
<circle cx="139.0" cy="196.9" r="1.0" fill="#222222"/>
<circle cx="143.0" cy="196.9" r="1.0" fill="#222222"/>
<circle cx="153.0" cy="191.6" r="1.0" fill="#222222"/>
<circle cx="154.6" cy="192.9" r="1.0" fill="#222222"/>
<circle cx="149.7" cy="196.9" r="1.0" fill="#222222"/>
<circle cx="130.7" cy="201.1" r="1.0" fill="#222222"/>
<circle cx="121.6" cy="205.1" r="1.0" fill="#222222"/>
<circle cx="128.6" cy="207.2" r="1.0" fill="#222222"/>
<circle cx="120.8" cy="209.4" r="1.0" fill="#222222"/>
<circle cx="125.8" cy="211.7" r="1.0" fill="#222222"/>
<circle cx="136.5" cy="211.7" r="1.0" fill="#222222"/>
<circle cx="146.4" cy="206.1" r="1.0" fill="#222222"/>
<circle cx="148.3" cy="208.9" r="1.0" fill="#222222"/>
<circle cx="131.9" cy="216.3" r="1.0" fill="#222222"/>
<circle cx="160.9" cy="186.6" r="1.0" fill="#222222"/>
<circle cx="49.1" cy="208.5" r="1.0" fill="#222222"/>
<circle cx="65.0" cy="206.8" r="1.0" fill="#222222"/>
<circle cx="63.9" cy="209.4" r="1.0" fill="#222222"/>
<circle cx="66.7" cy="213.9" r="1.0" fill="#222222"/>
<circle cx="73.3" cy="206.5" r="1.0" fill="#222222"/>
<circle cx="54.0" cy="219.3" r="1.0" fill="#222222"/>
<circle cx="52.4" cy="223.8" r="1.0" fill="#222222"/>
<circle cx="58.5" cy="225.9" r="1.0" fill="#222222"/>
<circle cx="56.8" cy="229.2" r="1.0" fill="#222222"/>
<circle cx="61.0" cy="230.4" r="1.0" fill="#222222"/>
<circle cx="70.5" cy="226.6" r="1.0" fill="#222222"/>
<circle cx="71.7" cy="227.1" r="1.0" fill="#222222"/>
<circle cx="75.8" cy="221.3" r="1.0" fill="#222222"/>
<circle cx="76.6" cy="226.6" r="1.0" fill="#222222"/>
<circle cx="79.9" cy="228.7" r="1.0" fill="#222222"/>
<circle cx="50.7" cy="234.2" r="1.0" fill="#222222"/>
<circle cx="62.6" cy="232.8" r="1.0" fill="#222222"/>
<circle cx="53.6" cy="219.5" r="1.0" fill="#222222"/>
<circle cx="52.1" cy="223.3" r="1.0" fill="#222222"/>
<circle cx="58.8" cy="226.3" r="1.0" fill="#222222"/>
<circle cx="57.2" cy="229.1" r="1.0" fill="#222222"/>
<circle cx="60.7" cy="231.0" r="1.0" fill="#222222"/>
<circle cx="62.0" cy="232.3" r="1.0" fill="#222222"/>
<circle cx="51.1" cy="234.5" r="1.0" fill="#222222"/>
<circle cx="55.6" cy="235.3" r="1.0" fill="#222222"/>
<circle cx="70.3" cy="226.8" r="1.0" fill="#222222"/>
<circle cx="71.6" cy="227.2" r="1.0" fill="#222222"/>
<circle cx="74.8" cy="221.7" r="1.0" fill="#222222"/>
<circle cx="76.5" cy="226.8" r="1.0" fill="#222222"/>
<circle cx="79.9" cy="226.3" r="1.0" fill="#222222"/>
<circle cx="81.2" cy="228.8" r="1.0" fill="#222222"/>
<circle cx="82.9" cy="222.7" r="1.0" fill="#222222"/>
<circle cx="86.0" cy="220.4" r="1.0" fill="#222222"/>
<circle cx="68.4" cy="243.0" r="1.0" fill="#222222"/>
<circle cx="92.3" cy="200.7" r="1.0" fill="#222222"/>
<circle cx="84.6" cy="204.8" r="1.0" fill="#222222"/>
<circle cx="89.5" cy="206.1" r="1.0" fill="#222222"/>
<circle cx="91.0" cy="206.7" r="1.0" fill="#222222"/>
<circle cx="87.4" cy="211.7" r="1.0" fill="#222222"/>
<circle cx="78.0" cy="211.7" r="1.0" fill="#222222"/>
<circle cx="95.6" cy="210.0" r="1.0" fill="#222222"/>
<circle cx="97.2" cy="213.3" r="1.0" fill="#222222"/>
<circle cx="98.9" cy="214.7" r="1.0" fill="#222222"/>
<circle cx="101.7" cy="215.0" r="1.0" fill="#222222"/>
<circle cx="105.0" cy="211.0" r="1.0" fill="#222222"/>
<circle cx="106.6" cy="212.2" r="1.0" fill="#222222"/>
<circle cx="108.0" cy="208.0" r="1.0" fill="#222222"/>
<circle cx="111.2" cy="211.4" r="1.0" fill="#222222"/>
<circle cx="113.2" cy="200.2" r="1.0" fill="#222222"/>
<circle cx="114.9" cy="202.8" r="1.0" fill="#222222"/>
<circle cx="116.2" cy="198.2" r="1.0" fill="#222222"/>
<circle cx="117.5" cy="210.0" r="1.0" fill="#222222"/>
<circle cx="120.8" cy="209.4" r="1.0" fill="#222222"/>
<circle cx="122.8" cy="205.1" r="1.0" fill="#222222"/>
<circle cx="124.1" cy="194.6" r="1.0" fill="#222222"/>
<circle cx="119.2" cy="186.6" r="1.0" fill="#222222"/>
<circle cx="127.4" cy="189.9" r="1.0" fill="#222222"/>
<circle cx="128.5" cy="207.2" r="1.0" fill="#222222"/>
<circle cx="126.1" cy="212.2" r="1.0" fill="#222222"/>
<circle cx="85.7" cy="220.4" r="1.0" fill="#222222"/>
<circle cx="94.0" cy="221.6" r="1.0" fill="#222222"/>
<circle cx="99.7" cy="220.9" r="1.0" fill="#222222"/>
<circle cx="109.6" cy="218.8" r="1.0" fill="#222222"/>
<circle cx="82.4" cy="222.6" r="1.0" fill="#222222"/>
<circle cx="76.3" cy="226.2" r="1.0" fill="#222222"/>
<circle cx="78.6" cy="226.2" r="1.0" fill="#222222"/>
<circle cx="81.3" cy="228.7" r="1.0" fill="#222222"/>
<circle cx="87.5" cy="212.0" r="1.0" fill="#222222"/>
<circle cx="97.3" cy="212.9" r="1.0" fill="#222222"/>
<circle cx="101.4" cy="214.6" r="1.0" fill="#222222"/>
<circle cx="106.3" cy="212.0" r="1.0" fill="#222222"/>
<circle cx="111.2" cy="212.0" r="1.0" fill="#222222"/>
<circle cx="117.7" cy="210.3" r="1.0" fill="#222222"/>
<circle cx="125.9" cy="212.0" r="1.0" fill="#222222"/>
<circle cx="137.0" cy="212.0" r="1.0" fill="#222222"/>
<circle cx="132.1" cy="216.5" r="1.0" fill="#222222"/>
<circle cx="85.8" cy="220.6" r="1.0" fill="#222222"/>
<circle cx="94.0" cy="221.8" r="1.0" fill="#222222"/>
<circle cx="100.5" cy="221.5" r="1.0" fill="#222222"/>
<circle cx="109.9" cy="219.0" r="1.0" fill="#222222"/>
<circle cx="103.3" cy="231.0" r="1.0" fill="#222222"/>
<path d="M204.0 184.8 C205.8 184.8 210.7 184.7 215.0 184.6 C219.3 184.5 225.0 184.3 230.0 184.0 C235.0 183.7 240.8 183.2 245.0 182.8 C249.2 182.4 251.5 182.0 255.0 181.5 C258.5 181.0 261.8 180.6 266.0 179.6 C270.2 178.6 276.0 177.0 280.0 175.7 C284.0 174.3 286.7 172.6 290.0 171.5 C293.3 170.4 296.7 169.7 300.0 168.9 C303.3 168.1 306.7 167.4 310.0 166.8 C313.3 166.2 316.1 165.8 320.0 165.2 C323.9 164.5 331.4 163.3 333.7 162.9" fill="none" stroke="#555" stroke-width="0.8"/>
<path d="M204.2 228.3 C206.8 228.2 214.5 228.0 220.0 227.7 C225.5 227.4 232.7 227.0 237.2 226.4 C241.7 225.8 244.2 224.8 247.0 224.0 C249.8 223.2 251.5 222.2 253.7 221.4 C255.9 220.6 258.1 219.8 260.0 219.0 C261.9 218.2 263.5 217.6 265.2 216.5 C266.9 215.4 268.4 213.9 270.0 212.5 C271.6 211.1 273.3 209.5 275.0 208.0 C276.7 206.5 278.3 205.1 280.0 203.4 C281.7 201.7 283.3 200.0 285.0 198.0 C286.7 196.0 288.3 193.9 290.0 191.5 C291.7 189.1 293.3 185.9 295.0 183.5 C296.7 181.1 297.5 179.3 300.0 177.2 C302.5 175.0 306.7 172.5 310.0 170.6 C313.3 168.7 316.1 167.0 320.0 165.7 C323.9 164.4 331.4 163.3 333.7 162.8" fill="none" stroke="#f8a040" stroke-width="0.8"/>
<circle cx="203.4" cy="226.0" r="1.1" fill="#f7941d"/>
<circle cx="205.6" cy="229.7" r="1.1" fill="#f7941d"/>
<circle cx="207.5" cy="233.8" r="1.1" fill="#f7941d"/>
<circle cx="207.2" cy="234.6" r="1.1" fill="#f7941d"/>
<circle cx="208.4" cy="232.1" r="1.1" fill="#f7941d"/>
<circle cx="209.2" cy="231.0" r="1.1" fill="#f7941d"/>
<circle cx="211.2" cy="222.2" r="1.1" fill="#f7941d"/>
<circle cx="212.1" cy="228.8" r="1.1" fill="#f7941d"/>
<circle cx="213.3" cy="231.3" r="1.1" fill="#f7941d"/>
<circle cx="216.6" cy="222.2" r="1.1" fill="#f7941d"/>
<circle cx="216.1" cy="234.9" r="1.1" fill="#f7941d"/>
<circle cx="218.2" cy="216.1" r="1.1" fill="#f7941d"/>
<circle cx="219.1" cy="230.5" r="1.1" fill="#f7941d"/>
<circle cx="220.4" cy="231.6" r="1.1" fill="#f7941d"/>
<circle cx="222.0" cy="226.0" r="1.1" fill="#f7941d"/>
<circle cx="222.7" cy="235.9" r="1.1" fill="#f7941d"/>
<circle cx="224.8" cy="229.7" r="1.1" fill="#f7941d"/>
<circle cx="227.6" cy="221.4" r="1.1" fill="#f7941d"/>
<circle cx="229.8" cy="221.4" r="1.1" fill="#f7941d"/>
<circle cx="227.6" cy="226.7" r="1.1" fill="#f7941d"/>
<circle cx="231.9" cy="231.3" r="1.1" fill="#f7941d"/>
<circle cx="233.1" cy="228.8" r="1.1" fill="#f7941d"/>
<circle cx="234.7" cy="224.7" r="1.1" fill="#f7941d"/>
<circle cx="235.9" cy="230.5" r="1.1" fill="#f7941d"/>
<circle cx="238.5" cy="227.7" r="1.1" fill="#f7941d"/>
<circle cx="240.5" cy="226.0" r="1.1" fill="#f7941d"/>
<circle cx="241.8" cy="223.4" r="1.1" fill="#f7941d"/>
<circle cx="243.8" cy="225.5" r="1.1" fill="#f7941d"/>
<circle cx="244.1" cy="228.8" r="1.1" fill="#f7941d"/>
<circle cx="245.4" cy="233.8" r="1.1" fill="#f7941d"/>
<circle cx="247.9" cy="223.1" r="1.1" fill="#f7941d"/>
<circle cx="248.7" cy="218.5" r="1.1" fill="#f7941d"/>
<circle cx="250.4" cy="216.1" r="1.1" fill="#f7941d"/>
<circle cx="250.4" cy="231.6" r="1.1" fill="#f7941d"/>
<circle cx="252.0" cy="231.6" r="1.1" fill="#f7941d"/>
<circle cx="252.0" cy="223.9" r="1.1" fill="#f7941d"/>
<circle cx="253.7" cy="216.8" r="1.1" fill="#f7941d"/>
<circle cx="255.6" cy="217.8" r="1.1" fill="#f7941d"/>
<circle cx="257.3" cy="217.3" r="1.1" fill="#f7941d"/>
<circle cx="259.4" cy="215.2" r="1.1" fill="#f7941d"/>
<circle cx="261.1" cy="214.5" r="1.1" fill="#f7941d"/>
<circle cx="263.2" cy="209.1" r="1.1" fill="#f7941d"/>
<circle cx="263.5" cy="217.3" r="1.1" fill="#f7941d"/>
<circle cx="265.2" cy="210.7" r="1.1" fill="#f7941d"/>
<circle cx="203.4" cy="225.5" r="1.1" fill="#f7941d"/>
<circle cx="260.8" cy="214.6" r="1.1" fill="#f7941d"/>
<circle cx="263.3" cy="209.3" r="1.1" fill="#f7941d"/>
<circle cx="266.3" cy="209.7" r="1.1" fill="#f7941d"/>
<circle cx="264.6" cy="217.1" r="1.1" fill="#f7941d"/>
<circle cx="269.1" cy="219.5" r="1.1" fill="#f7941d"/>
<circle cx="270.7" cy="217.1" r="1.1" fill="#f7941d"/>
<circle cx="271.9" cy="209.7" r="1.1" fill="#f7941d"/>
<circle cx="274.0" cy="209.3" r="1.1" fill="#f7941d"/>
<circle cx="274.8" cy="213.0" r="1.1" fill="#f7941d"/>
<circle cx="276.5" cy="201.4" r="1.1" fill="#f7941d"/>
<circle cx="276.8" cy="204.7" r="1.1" fill="#f7941d"/>
<circle cx="278.9" cy="206.0" r="1.1" fill="#f7941d"/>
<circle cx="279.8" cy="204.7" r="1.1" fill="#f7941d"/>
<circle cx="281.1" cy="201.7" r="1.1" fill="#f7941d"/>
<circle cx="283.1" cy="197.3" r="1.1" fill="#f7941d"/>
<circle cx="283.9" cy="196.5" r="1.1" fill="#f7941d"/>
<circle cx="285.5" cy="196.5" r="1.1" fill="#f7941d"/>
<circle cx="286.7" cy="193.2" r="1.1" fill="#f7941d"/>
<circle cx="288.3" cy="195.2" r="1.1" fill="#f7941d"/>
<circle cx="285.5" cy="188.2" r="1.1" fill="#f7941d"/>
<circle cx="289.7" cy="187.9" r="1.1" fill="#f7941d"/>
<circle cx="292.1" cy="189.1" r="1.1" fill="#f7941d"/>
<circle cx="291.3" cy="184.6" r="1.1" fill="#f7941d"/>
<circle cx="293.8" cy="184.6" r="1.1" fill="#f7941d"/>
<circle cx="297.1" cy="180.3" r="1.1" fill="#f7941d"/>
<circle cx="261.3" cy="217.9" r="1.1" fill="#f7941d"/>
<circle cx="333.2" cy="154.1" r="1.1" fill="#f7941d"/>
<circle cx="328.7" cy="156.9" r="1.1" fill="#f7941d"/>
<circle cx="326.2" cy="159.1" r="1.1" fill="#f7941d"/>
<circle cx="323.8" cy="160.7" r="1.1" fill="#f7941d"/>
<circle cx="317.2" cy="162.4" r="1.1" fill="#f7941d"/>
<circle cx="313.9" cy="162.9" r="1.1" fill="#f7941d"/>
<circle cx="314.7" cy="165.2" r="1.1" fill="#f7941d"/>
<circle cx="318.0" cy="168.1" r="1.1" fill="#f7941d"/>
<circle cx="320.5" cy="165.7" r="1.1" fill="#f7941d"/>
<circle cx="323.8" cy="166.5" r="1.1" fill="#f7941d"/>
<circle cx="327.1" cy="167.3" r="1.1" fill="#f7941d"/>
<circle cx="332.5" cy="168.5" r="1.1" fill="#f7941d"/>
<circle cx="319.7" cy="171.4" r="1.1" fill="#f7941d"/>
<circle cx="320.5" cy="176.0" r="1.1" fill="#f7941d"/>
<circle cx="314.7" cy="177.2" r="1.1" fill="#f7941d"/>
<circle cx="311.1" cy="177.2" r="1.1" fill="#f7941d"/>
<circle cx="305.7" cy="177.7" r="1.1" fill="#f7941d"/>
<circle cx="303.2" cy="173.1" r="1.1" fill="#f7941d"/>
<circle cx="299.9" cy="174.7" r="1.1" fill="#f7941d"/>
<circle cx="298.2" cy="176.7" r="1.1" fill="#f7941d"/>
<circle cx="296.6" cy="179.7" r="1.1" fill="#f7941d"/>
<circle cx="294.1" cy="174.4" r="1.1" fill="#f7941d"/>
<circle cx="292.5" cy="184.6" r="1.1" fill="#f7941d"/>
<circle cx="291.3" cy="189.5" r="1.1" fill="#f7941d"/>
<circle cx="204.5" cy="181.8" r="1.0" fill="#222222"/>
<circle cx="206.2" cy="182.3" r="1.0" fill="#222222"/>
<circle cx="207.0" cy="183.3" r="1.0" fill="#222222"/>
<circle cx="209.2" cy="190.6" r="1.0" fill="#222222"/>
<circle cx="210.3" cy="183.7" r="1.0" fill="#222222"/>
<circle cx="211.8" cy="180.4" r="1.0" fill="#222222"/>
<circle cx="214.3" cy="181.4" r="1.0" fill="#222222"/>
<circle cx="216.5" cy="178.9" r="1.0" fill="#222222"/>
<circle cx="213.9" cy="186.7" r="1.0" fill="#222222"/>
<circle cx="218.7" cy="187.7" r="1.0" fill="#222222"/>
<circle cx="219.7" cy="187.7" r="1.0" fill="#222222"/>
<circle cx="221.6" cy="185.8" r="1.0" fill="#222222"/>
<circle cx="222.6" cy="187.0" r="1.0" fill="#222222"/>
<circle cx="225.0" cy="184.0" r="1.0" fill="#222222"/>
<circle cx="227.5" cy="179.3" r="1.0" fill="#222222"/>
<circle cx="227.5" cy="180.8" r="1.0" fill="#222222"/>
<circle cx="229.4" cy="184.0" r="1.0" fill="#222222"/>
<circle cx="230.4" cy="188.4" r="1.0" fill="#222222"/>
<circle cx="232.9" cy="192.1" r="1.0" fill="#222222"/>
<circle cx="235.2" cy="184.0" r="1.0" fill="#222222"/>
<circle cx="237.3" cy="185.5" r="1.0" fill="#222222"/>
<circle cx="238.8" cy="187.0" r="1.0" fill="#222222"/>
<circle cx="240.2" cy="179.3" r="1.0" fill="#222222"/>
<circle cx="242.6" cy="178.9" r="1.0" fill="#222222"/>
<circle cx="243.6" cy="179.6" r="1.0" fill="#222222"/>
<circle cx="245.8" cy="179.6" r="1.0" fill="#222222"/>
<circle cx="247.5" cy="185.2" r="1.0" fill="#222222"/>
<circle cx="248.7" cy="185.5" r="1.0" fill="#222222"/>
<circle cx="251.3" cy="183.7" r="1.0" fill="#222222"/>
<circle cx="250.9" cy="188.1" r="1.0" fill="#222222"/>
<circle cx="254.6" cy="187.3" r="1.0" fill="#222222"/>
<circle cx="256.3" cy="181.1" r="1.0" fill="#222222"/>
<circle cx="257.5" cy="178.2" r="1.0" fill="#222222"/>
<circle cx="260.1" cy="175.0" r="1.0" fill="#222222"/>
<circle cx="262.6" cy="176.7" r="1.0" fill="#222222"/>
<circle cx="262.6" cy="182.3" r="1.0" fill="#222222"/>
<circle cx="255.6" cy="186.9" r="1.0" fill="#222222"/>
<circle cx="256.9" cy="180.5" r="1.0" fill="#222222"/>
<circle cx="257.6" cy="178.2" r="1.0" fill="#222222"/>
<circle cx="260.1" cy="175.1" r="1.0" fill="#222222"/>
<circle cx="262.7" cy="176.7" r="1.0" fill="#222222"/>
<circle cx="262.4" cy="182.8" r="1.0" fill="#222222"/>
<circle cx="265.9" cy="179.9" r="1.0" fill="#222222"/>
<circle cx="268.5" cy="173.1" r="1.0" fill="#222222"/>
<circle cx="267.8" cy="177.3" r="1.0" fill="#222222"/>
<circle cx="271.4" cy="176.7" r="1.0" fill="#222222"/>
<circle cx="272.3" cy="177.3" r="1.0" fill="#222222"/>
<circle cx="274.5" cy="174.4" r="1.0" fill="#222222"/>
<circle cx="274.9" cy="178.6" r="1.0" fill="#222222"/>
<circle cx="277.8" cy="176.4" r="1.0" fill="#222222"/>
<circle cx="280.0" cy="177.7" r="1.0" fill="#222222"/>
<circle cx="281.3" cy="175.1" r="1.0" fill="#222222"/>
<circle cx="283.8" cy="172.6" r="1.0" fill="#222222"/>
<circle cx="285.8" cy="171.8" r="1.0" fill="#222222"/>
<circle cx="287.7" cy="163.8" r="1.0" fill="#222222"/>
<circle cx="290.6" cy="169.2" r="1.0" fill="#222222"/>
<circle cx="292.8" cy="168.0" r="1.0" fill="#222222"/>
<circle cx="293.5" cy="172.2" r="1.0" fill="#222222"/>
<circle cx="296.0" cy="168.0" r="1.0" fill="#222222"/>
<circle cx="299.2" cy="167.7" r="1.0" fill="#222222"/>
<circle cx="292.5" cy="167.3" r="1.0" fill="#222222"/>
<circle cx="290.8" cy="170.6" r="1.0" fill="#222222"/>
<circle cx="295.8" cy="168.1" r="1.0" fill="#222222"/>
<circle cx="298.2" cy="167.8" r="1.0" fill="#222222"/>
<circle cx="301.9" cy="164.5" r="1.0" fill="#222222"/>
<circle cx="302.4" cy="172.2" r="1.0" fill="#222222"/>
<circle cx="305.7" cy="173.1" r="1.0" fill="#222222"/>
<circle cx="304.8" cy="176.4" r="1.0" fill="#222222"/>
<circle cx="308.1" cy="167.3" r="1.0" fill="#222222"/>
<circle cx="310.6" cy="174.4" r="1.0" fill="#222222"/>
<circle cx="313.1" cy="170.6" r="1.0" fill="#222222"/>
<circle cx="314.4" cy="159.6" r="1.0" fill="#222222"/>
<circle cx="316.4" cy="170.1" r="1.0" fill="#222222"/>
<circle cx="318.0" cy="166.5" r="1.0" fill="#222222"/>
<circle cx="320.0" cy="158.6" r="1.0" fill="#222222"/>
<circle cx="321.3" cy="166.5" r="1.0" fill="#222222"/>
<circle cx="323.8" cy="156.3" r="1.0" fill="#222222"/>
<circle cx="325.4" cy="164.0" r="1.0" fill="#222222"/>
<circle cx="327.9" cy="160.2" r="1.0" fill="#222222"/>
<circle cx="328.7" cy="153.0" r="1.0" fill="#222222"/>
<circle cx="330.4" cy="166.5" r="1.0" fill="#222222"/>
<circle cx="333.2" cy="166.1" r="1.0" fill="#222222"/>
<circle cx="332.0" cy="162.4" r="1.0" fill="#222222"/>
<path d="M379.5 159.1 L381.1 158.8 L382.7 159.7 L384.3 158.6 L385.9 159.5 L387.5 159.2 L389.1 158.6 L390.7 159.4 L392.3 158.6 L393.9 159.3 L395.5 158.6 L397.1 158.7 L398.7 159.3 L400.3 160.0 L401.9 158.7 L403.5 158.9 L405.1 159.6 L406.7 160.2 L408.3 159.5 L409.9 159.2 L411.5 160.3 L413.1 158.6 L414.7 160.0 L416.3 159.0 L417.9 158.8 L419.5 158.7 L421.1 159.1 L422.7 160.0 L424.3 158.8 L425.9 159.5 L427.5 159.7 L429.1 159.2 L430.7 159.5 L432.3 158.6 L433.9 158.6 L435.5 158.9 L437.1 159.7 L438.7 159.3 L440.3 159.1 L441.9 159.6 L443.5 159.3 L445.1 159.0 L446.7 159.9 L448.3 159.8 L449.9 158.9 L451.5 159.5 L453.1 159.4 L454.7 160.1 L456.3 159.8 L457.9 159.0 L459.5 160.3 L461.1 158.7 L462.7 159.3 L464.3 159.9 L465.9 158.8 L467.5 159.4 L469.1 158.6 L470.7 159.7 L472.3 159.9 L473.9 159.5 L475.5 160.1 L477.1 159.1 L478.7 159.8 L480.3 159.6 L481.9 159.5 L483.5 159.3 L485.1 160.0 L486.7 160.2 L488.3 159.4 L489.9 159.7 L491.5 158.6 L493.1 159.8 L494.7 159.7 L496.3 160.3 L497.9 160.0 L499.5 159.0 L501.1 158.3 L502.7 158.8 L504.3 157.6 L505.9 158.4 L507.5 157.9 L509.1 157.8" fill="none" stroke="#222222" stroke-width="0.8"/>
<circle cx="379.5" cy="159.1" r="0.95" fill="#222222"/>
<circle cx="381.1" cy="158.8" r="0.95" fill="#222222"/>
<circle cx="382.7" cy="159.7" r="0.95" fill="#222222"/>
<circle cx="384.3" cy="158.6" r="0.95" fill="#222222"/>
<circle cx="385.9" cy="159.5" r="0.95" fill="#222222"/>
<circle cx="387.5" cy="159.2" r="0.95" fill="#222222"/>
<circle cx="389.1" cy="158.6" r="0.95" fill="#222222"/>
<circle cx="390.7" cy="159.4" r="0.95" fill="#222222"/>
<circle cx="392.3" cy="158.6" r="0.95" fill="#222222"/>
<circle cx="393.9" cy="159.3" r="0.95" fill="#222222"/>
<circle cx="395.5" cy="158.6" r="0.95" fill="#222222"/>
<circle cx="397.1" cy="158.7" r="0.95" fill="#222222"/>
<circle cx="398.7" cy="159.3" r="0.95" fill="#222222"/>
<circle cx="400.3" cy="160.0" r="0.95" fill="#222222"/>
<circle cx="401.9" cy="158.7" r="0.95" fill="#222222"/>
<circle cx="403.5" cy="158.9" r="0.95" fill="#222222"/>
<circle cx="405.1" cy="159.6" r="0.95" fill="#222222"/>
<circle cx="406.7" cy="160.2" r="0.95" fill="#222222"/>
<circle cx="408.3" cy="159.5" r="0.95" fill="#222222"/>
<circle cx="409.9" cy="159.2" r="0.95" fill="#222222"/>
<circle cx="411.5" cy="160.3" r="0.95" fill="#222222"/>
<circle cx="413.1" cy="158.6" r="0.95" fill="#222222"/>
<circle cx="414.7" cy="160.0" r="0.95" fill="#222222"/>
<circle cx="416.3" cy="159.0" r="0.95" fill="#222222"/>
<circle cx="417.9" cy="158.8" r="0.95" fill="#222222"/>
<circle cx="419.5" cy="158.7" r="0.95" fill="#222222"/>
<circle cx="421.1" cy="159.1" r="0.95" fill="#222222"/>
<circle cx="422.7" cy="160.0" r="0.95" fill="#222222"/>
<circle cx="424.3" cy="158.8" r="0.95" fill="#222222"/>
<circle cx="425.9" cy="159.5" r="0.95" fill="#222222"/>
<circle cx="427.5" cy="159.7" r="0.95" fill="#222222"/>
<circle cx="429.1" cy="159.2" r="0.95" fill="#222222"/>
<circle cx="430.7" cy="159.5" r="0.95" fill="#222222"/>
<circle cx="432.3" cy="158.6" r="0.95" fill="#222222"/>
<circle cx="433.9" cy="158.6" r="0.95" fill="#222222"/>
<circle cx="435.5" cy="158.9" r="0.95" fill="#222222"/>
<circle cx="437.1" cy="159.7" r="0.95" fill="#222222"/>
<circle cx="438.7" cy="159.3" r="0.95" fill="#222222"/>
<circle cx="440.3" cy="159.1" r="0.95" fill="#222222"/>
<circle cx="441.9" cy="159.6" r="0.95" fill="#222222"/>
<circle cx="443.5" cy="159.3" r="0.95" fill="#222222"/>
<circle cx="445.1" cy="159.0" r="0.95" fill="#222222"/>
<circle cx="446.7" cy="159.9" r="0.95" fill="#222222"/>
<circle cx="448.3" cy="159.8" r="0.95" fill="#222222"/>
<circle cx="449.9" cy="158.9" r="0.95" fill="#222222"/>
<circle cx="451.5" cy="159.5" r="0.95" fill="#222222"/>
<circle cx="453.1" cy="159.4" r="0.95" fill="#222222"/>
<circle cx="454.7" cy="160.1" r="0.95" fill="#222222"/>
<circle cx="456.3" cy="159.8" r="0.95" fill="#222222"/>
<circle cx="457.9" cy="159.0" r="0.95" fill="#222222"/>
<circle cx="459.5" cy="160.3" r="0.95" fill="#222222"/>
<circle cx="461.1" cy="158.7" r="0.95" fill="#222222"/>
<circle cx="462.7" cy="159.3" r="0.95" fill="#222222"/>
<circle cx="464.3" cy="159.9" r="0.95" fill="#222222"/>
<circle cx="465.9" cy="158.8" r="0.95" fill="#222222"/>
<circle cx="467.5" cy="159.4" r="0.95" fill="#222222"/>
<circle cx="469.1" cy="158.6" r="0.95" fill="#222222"/>
<circle cx="470.7" cy="159.7" r="0.95" fill="#222222"/>
<circle cx="472.3" cy="159.9" r="0.95" fill="#222222"/>
<circle cx="473.9" cy="159.5" r="0.95" fill="#222222"/>
<circle cx="475.5" cy="160.1" r="0.95" fill="#222222"/>
<circle cx="477.1" cy="159.1" r="0.95" fill="#222222"/>
<circle cx="478.7" cy="159.8" r="0.95" fill="#222222"/>
<circle cx="480.3" cy="159.6" r="0.95" fill="#222222"/>
<circle cx="481.9" cy="159.5" r="0.95" fill="#222222"/>
<circle cx="483.5" cy="159.3" r="0.95" fill="#222222"/>
<circle cx="485.1" cy="160.0" r="0.95" fill="#222222"/>
<circle cx="486.7" cy="160.2" r="0.95" fill="#222222"/>
<circle cx="488.3" cy="159.4" r="0.95" fill="#222222"/>
<circle cx="489.9" cy="159.7" r="0.95" fill="#222222"/>
<circle cx="491.5" cy="158.6" r="0.95" fill="#222222"/>
<circle cx="493.1" cy="159.8" r="0.95" fill="#222222"/>
<circle cx="494.7" cy="159.7" r="0.95" fill="#222222"/>
<circle cx="496.3" cy="160.3" r="0.95" fill="#222222"/>
<circle cx="497.9" cy="160.0" r="0.95" fill="#222222"/>
<circle cx="499.5" cy="159.0" r="0.95" fill="#222222"/>
<circle cx="501.1" cy="158.3" r="0.95" fill="#222222"/>
<circle cx="502.7" cy="158.8" r="0.95" fill="#222222"/>
<circle cx="504.3" cy="157.6" r="0.95" fill="#222222"/>
<circle cx="505.9" cy="158.4" r="0.95" fill="#222222"/>
<circle cx="507.5" cy="157.9" r="0.95" fill="#222222"/>
<circle cx="509.1" cy="157.8" r="0.95" fill="#222222"/>
<path d="M388.5 242.0 L389.8 243.4 L391.0 241.7 L392.2 241.8 L393.5 241.9 L394.8 244.9 L396.0 240.8 L397.2 241.4 L398.5 241.4 L399.8 241.9 L401.0 241.6 L402.2 241.5 L403.5 240.1 L404.8 240.2 L406.0 239.9 L407.2 240.9 L408.5 243.1 L409.8 239.0 L411.0 238.9 L412.2 238.8 L413.5 238.7 L414.8 239.0 L416.0 239.1 L417.2 238.2 L418.5 237.5 L419.8 238.3 L421.0 237.9 L422.2 240.3 L423.5 238.7 L424.8 237.9 L426.0 237.3 L427.2 237.3 L428.5 237.2 L429.8 235.6 L431.0 237.2 L432.2 236.7 L433.5 236.7 L434.8 236.3 L436.0 237.3 L437.2 234.9 L438.5 234.0 L439.8 234.9 L441.0 233.5 L442.2 233.3 L443.5 233.4 L444.8 233.1 L446.0 233.3 L447.2 232.5 L448.5 232.1 L449.8 234.5 L451.0 231.9 L452.2 232.2 L453.5 231.1 L454.8 232.7 L456.0 231.8 L457.2 230.4 L458.5 230.3 L459.8 230.1 L461.0 229.8 L462.2 228.9 L463.5 232.4 L464.8 230.2 L466.0 228.7 L467.2 228.5 L468.5 227.2 L469.8 226.9 L471.0 227.1 L472.2 226.5 L473.5 227.4 L474.5 224.3 L476.5 225.2 L478.2 227.0 L476.0 227.3" fill="none" stroke="#f7941d" stroke-width="0.55"/>
<path d="M496.0 164.0 L497.2 161.2 L498.1 159.0 L500.0 154.4 L501.4 155.0 L503.6 156.2 L505.5 155.3 L507.7 156.8 L509.3 155.8" fill="none" stroke="#f7941d" stroke-width="0.5"/>
<circle cx="388.5" cy="242.0" r="0.95" fill="#f7941d"/>
<circle cx="389.8" cy="243.4" r="0.95" fill="#f7941d"/>
<circle cx="391.0" cy="241.7" r="0.95" fill="#f7941d"/>
<circle cx="392.2" cy="241.8" r="0.95" fill="#f7941d"/>
<circle cx="393.5" cy="241.9" r="0.95" fill="#f7941d"/>
<circle cx="394.8" cy="244.9" r="0.95" fill="#f7941d"/>
<circle cx="396.0" cy="240.8" r="0.95" fill="#f7941d"/>
<circle cx="397.2" cy="241.4" r="0.95" fill="#f7941d"/>
<circle cx="398.5" cy="241.4" r="0.95" fill="#f7941d"/>
<circle cx="399.8" cy="241.9" r="0.95" fill="#f7941d"/>
<circle cx="401.0" cy="241.6" r="0.95" fill="#f7941d"/>
<circle cx="402.2" cy="241.5" r="0.95" fill="#f7941d"/>
<circle cx="403.5" cy="240.1" r="0.95" fill="#f7941d"/>
<circle cx="404.8" cy="240.2" r="0.95" fill="#f7941d"/>
<circle cx="406.0" cy="239.9" r="0.95" fill="#f7941d"/>
<circle cx="407.2" cy="240.9" r="0.95" fill="#f7941d"/>
<circle cx="408.5" cy="243.1" r="0.95" fill="#f7941d"/>
<circle cx="409.8" cy="239.0" r="0.95" fill="#f7941d"/>
<circle cx="411.0" cy="238.9" r="0.95" fill="#f7941d"/>
<circle cx="412.2" cy="238.8" r="0.95" fill="#f7941d"/>
<circle cx="413.5" cy="238.7" r="0.95" fill="#f7941d"/>
<circle cx="414.8" cy="239.0" r="0.95" fill="#f7941d"/>
<circle cx="416.0" cy="239.1" r="0.95" fill="#f7941d"/>
<circle cx="417.2" cy="238.2" r="0.95" fill="#f7941d"/>
<circle cx="418.5" cy="237.5" r="0.95" fill="#f7941d"/>
<circle cx="419.8" cy="238.3" r="0.95" fill="#f7941d"/>
<circle cx="421.0" cy="237.9" r="0.95" fill="#f7941d"/>
<circle cx="422.2" cy="240.3" r="0.95" fill="#f7941d"/>
<circle cx="423.5" cy="238.7" r="0.95" fill="#f7941d"/>
<circle cx="424.8" cy="237.9" r="0.95" fill="#f7941d"/>
<circle cx="426.0" cy="237.3" r="0.95" fill="#f7941d"/>
<circle cx="427.2" cy="237.3" r="0.95" fill="#f7941d"/>
<circle cx="428.5" cy="237.2" r="0.95" fill="#f7941d"/>
<circle cx="429.8" cy="235.6" r="0.95" fill="#f7941d"/>
<circle cx="431.0" cy="237.2" r="0.95" fill="#f7941d"/>
<circle cx="432.2" cy="236.7" r="0.95" fill="#f7941d"/>
<circle cx="433.5" cy="236.7" r="0.95" fill="#f7941d"/>
<circle cx="434.8" cy="236.3" r="0.95" fill="#f7941d"/>
<circle cx="436.0" cy="237.3" r="0.95" fill="#f7941d"/>
<circle cx="437.2" cy="234.9" r="0.95" fill="#f7941d"/>
<circle cx="438.5" cy="234.0" r="0.95" fill="#f7941d"/>
<circle cx="439.8" cy="234.9" r="0.95" fill="#f7941d"/>
<circle cx="441.0" cy="233.5" r="0.95" fill="#f7941d"/>
<circle cx="442.2" cy="233.3" r="0.95" fill="#f7941d"/>
<circle cx="443.5" cy="233.4" r="0.95" fill="#f7941d"/>
<circle cx="444.8" cy="233.1" r="0.95" fill="#f7941d"/>
<circle cx="446.0" cy="233.3" r="0.95" fill="#f7941d"/>
<circle cx="447.2" cy="232.5" r="0.95" fill="#f7941d"/>
<circle cx="448.5" cy="232.1" r="0.95" fill="#f7941d"/>
<circle cx="449.8" cy="234.5" r="0.95" fill="#f7941d"/>
<circle cx="451.0" cy="231.9" r="0.95" fill="#f7941d"/>
<circle cx="452.2" cy="232.2" r="0.95" fill="#f7941d"/>
<circle cx="453.5" cy="231.1" r="0.95" fill="#f7941d"/>
<circle cx="454.8" cy="232.7" r="0.95" fill="#f7941d"/>
<circle cx="456.0" cy="231.8" r="0.95" fill="#f7941d"/>
<circle cx="457.2" cy="230.4" r="0.95" fill="#f7941d"/>
<circle cx="458.5" cy="230.3" r="0.95" fill="#f7941d"/>
<circle cx="459.8" cy="230.1" r="0.95" fill="#f7941d"/>
<circle cx="461.0" cy="229.8" r="0.95" fill="#f7941d"/>
<circle cx="462.2" cy="228.9" r="0.95" fill="#f7941d"/>
<circle cx="463.5" cy="232.4" r="0.95" fill="#f7941d"/>
<circle cx="464.8" cy="230.2" r="0.95" fill="#f7941d"/>
<circle cx="466.0" cy="228.7" r="0.95" fill="#f7941d"/>
<circle cx="467.2" cy="228.5" r="0.95" fill="#f7941d"/>
<circle cx="468.5" cy="227.2" r="0.95" fill="#f7941d"/>
<circle cx="469.8" cy="226.9" r="0.95" fill="#f7941d"/>
<circle cx="471.0" cy="227.1" r="0.95" fill="#f7941d"/>
<circle cx="472.2" cy="226.5" r="0.95" fill="#f7941d"/>
<circle cx="473.5" cy="227.4" r="0.95" fill="#f7941d"/>
<circle cx="474.5" cy="224.3" r="0.95" fill="#f7941d"/>
<circle cx="476.5" cy="225.2" r="0.95" fill="#f7941d"/>
<circle cx="478.2" cy="227.0" r="0.95" fill="#f7941d"/>
<circle cx="476.0" cy="227.3" r="0.95" fill="#f7941d"/>
<circle cx="479.0" cy="217.1" r="0.95" fill="#f7941d"/>
<circle cx="481.5" cy="213.8" r="0.95" fill="#f7941d"/>
<circle cx="484.0" cy="205.5" r="0.95" fill="#f7941d"/>
<circle cx="486.0" cy="199.0" r="0.95" fill="#f7941d"/>
<circle cx="488.0" cy="195.3" r="0.95" fill="#f7941d"/>
<circle cx="489.5" cy="187.0" r="0.95" fill="#f7941d"/>
<circle cx="490.8" cy="179.1" r="0.95" fill="#f7941d"/>
<circle cx="493.6" cy="181.3" r="0.95" fill="#f7941d"/>
<circle cx="494.5" cy="168.5" r="0.95" fill="#f7941d"/>
<circle cx="496.0" cy="164.0" r="0.95" fill="#f7941d"/>
<circle cx="497.2" cy="161.2" r="0.95" fill="#f7941d"/>
<circle cx="498.1" cy="159.0" r="0.95" fill="#f7941d"/>
<circle cx="500.0" cy="154.4" r="0.95" fill="#f7941d"/>
<circle cx="501.4" cy="155.0" r="0.95" fill="#f7941d"/>
<circle cx="503.6" cy="156.2" r="0.95" fill="#f7941d"/>
<circle cx="505.5" cy="155.3" r="0.95" fill="#f7941d"/>
<circle cx="507.7" cy="156.8" r="0.95" fill="#f7941d"/>
<circle cx="509.3" cy="155.8" r="0.95" fill="#f7941d"/>
<path d="M388.5 243.3 C390.4 242.9 394.8 241.8 400.0 241.0 C405.2 240.2 413.3 239.3 420.0 238.2 C426.7 237.1 434.2 235.7 440.0 234.6 C445.8 233.5 450.3 232.6 455.0 231.6 C459.7 230.6 464.5 229.2 468.0 228.3 C471.5 227.4 474.0 227.5 476.0 226.4 C478.0 225.3 478.8 224.0 480.0 222.0 C481.2 220.0 482.0 217.2 483.0 214.4 C484.0 211.6 485.2 207.9 486.0 205.0 C486.8 202.1 487.4 201.3 488.0 197.0 C488.6 192.7 489.1 183.9 489.9 179.1 C490.7 174.3 491.8 170.8 492.7 168.1 C493.6 165.4 494.5 164.1 495.4 162.7 C496.3 161.3 497.0 160.8 498.1 159.9 C499.2 159.0 500.5 157.8 501.8 157.2 C503.1 156.6 504.6 156.5 506.0 156.3 C507.4 156.1 509.3 156.2 510.0 156.2" fill="none" stroke="#f7941d" stroke-width="0.8"/>
<line x1="504.5" y1="194.1" x2="511.9" y2="194.1" stroke="#f7941d" stroke-width="0.9"/>
<circle cx="508.2" cy="194.1" r="1.1" fill="#f7941d"/>
<text x="514.8" y="197.6" font-size="9.1" text-anchor="start" font-weight="normal" fill="#1a1a1a" stroke="#1a1a1a" stroke-width="0.12" >Heating</text>
<line x1="504.5" y1="206.7" x2="511.9" y2="206.7" stroke="#222222" stroke-width="0.9"/>
<circle cx="508.2" cy="206.7" r="1.1" fill="#222222"/>
<text x="514.8" y="208.9" font-size="9.1" text-anchor="start" font-weight="normal" fill="#1a1a1a" stroke="#1a1a1a" stroke-width="0.12" >Cooling</text>
</svg>
</body></html>
